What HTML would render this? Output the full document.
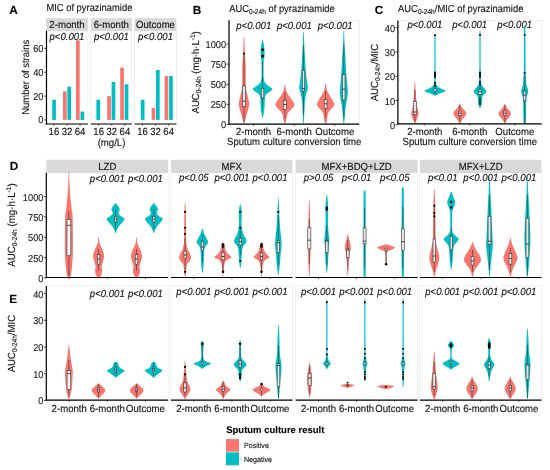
<!DOCTYPE html>
<html><head><meta charset="utf-8"><style>
html,body{margin:0;padding:0;background:#fff;}
svg{display:block;font-family:"Liberation Sans", sans-serif;text-rendering:geometricPrecision;}
text{stroke:#1A1A1A;stroke-width:0.12px;}
svg{filter:blur(0.35px);}
</style></head><body>
<svg width="550" height="470" viewBox="0 0 550 470">
<rect x="0" y="0" width="550" height="470" fill="#fff"/>
<text x="0" y="0" font-size="11.8" text-anchor="start" font-weight="bold" font-style="normal" fill="#000" transform="translate(9.30,14.10) scale(1,1.0)" >A</text>
<text x="0" y="0" font-size="11.8" text-anchor="start" font-weight="bold" font-style="normal" fill="#000" transform="translate(192.80,14.20) scale(1,1.0)" >B</text>
<text x="0" y="0" font-size="11.8" text-anchor="start" font-weight="bold" font-style="normal" fill="#000" transform="translate(374.80,13.80) scale(1,1.0)" >C</text>
<text x="0" y="0" font-size="11.8" text-anchor="start" font-weight="bold" font-style="normal" fill="#000" transform="translate(9.80,169.50) scale(1,1.0)" >D</text>
<text x="0" y="0" font-size="11.8" text-anchor="start" font-weight="bold" font-style="normal" fill="#000" transform="translate(9.20,302.60) scale(1,1.0)" >E</text>
<text x="0" y="0" font-size="9.4" text-anchor="start" font-weight="normal" font-style="normal" fill="#111" transform="translate(46.40,11.10) scale(1,1.07)" >MIC of pyrazinamide</text>
<rect x="46.00" y="30.80" width="41.90" height="93.00" fill="none" stroke="#EBEBEB" stroke-width="0.8" />
<rect x="46.00" y="18.20" width="41.90" height="12.90" fill="#D9D9D9" stroke="none" stroke-width="0" />
<text x="0" y="0" font-size="9.6" text-anchor="middle" font-weight="normal" font-style="normal" fill="#111" transform="translate(66.95,28.34) scale(1,1.07)" >2-month</text>
<text x="0" y="0" font-size="9.6" text-anchor="middle" font-weight="normal" font-style="italic" fill="#111" transform="translate(66.95,39.74) scale(1,1.07)" >p&lt;0.001</text>
<rect x="52.20" y="99.70" width="3.70" height="20.20" fill="#00BFC4" stroke="none" stroke-width="0" />
<rect x="63.00" y="91.39" width="3.70" height="28.51" fill="#F8766D" stroke="none" stroke-width="0" />
<rect x="67.40" y="86.64" width="3.70" height="33.26" fill="#00BFC4" stroke="none" stroke-width="0" />
<rect x="76.00" y="40.30" width="3.70" height="79.60" fill="#F8766D" stroke="none" stroke-width="0" />
<rect x="80.50" y="111.58" width="3.70" height="8.32" fill="#00BFC4" stroke="none" stroke-width="0" />
<line x1="45.50" y1="124.00" x2="87.90" y2="124.00" stroke="#000" stroke-width="1.2" />
<line x1="53.90" y1="124.00" x2="53.90" y2="125.80" stroke="#000" stroke-width="0.6" />
<text x="0" y="0" font-size="9.6" text-anchor="middle" font-weight="normal" font-style="normal" fill="#111" transform="translate(53.90,135.44) scale(1,1.07)" >16</text>
<line x1="67.00" y1="124.00" x2="67.00" y2="125.80" stroke="#000" stroke-width="0.6" />
<text x="0" y="0" font-size="9.6" text-anchor="middle" font-weight="normal" font-style="normal" fill="#111" transform="translate(67.00,135.44) scale(1,1.07)" >32</text>
<line x1="80.10" y1="124.00" x2="80.10" y2="125.80" stroke="#000" stroke-width="0.6" />
<text x="0" y="0" font-size="9.6" text-anchor="middle" font-weight="normal" font-style="normal" fill="#111" transform="translate(80.10,135.44) scale(1,1.07)" >64</text>
<rect x="90.80" y="30.80" width="41.10" height="93.00" fill="none" stroke="#EBEBEB" stroke-width="0.8" />
<rect x="90.80" y="18.20" width="41.10" height="12.90" fill="#D9D9D9" stroke="none" stroke-width="0" />
<text x="0" y="0" font-size="9.6" text-anchor="middle" font-weight="normal" font-style="normal" fill="#111" transform="translate(111.35,28.34) scale(1,1.07)" >6-month</text>
<text x="0" y="0" font-size="9.6" text-anchor="middle" font-weight="normal" font-style="italic" fill="#111" transform="translate(111.35,39.74) scale(1,1.07)" >p&lt;0.001</text>
<rect x="96.40" y="99.70" width="3.70" height="20.20" fill="#00BFC4" stroke="none" stroke-width="0" />
<rect x="107.20" y="96.14" width="3.70" height="23.76" fill="#F8766D" stroke="none" stroke-width="0" />
<rect x="111.60" y="81.88" width="3.70" height="38.02" fill="#00BFC4" stroke="none" stroke-width="0" />
<rect x="120.20" y="67.63" width="3.70" height="52.27" fill="#F8766D" stroke="none" stroke-width="0" />
<rect x="124.70" y="84.26" width="3.70" height="35.64" fill="#00BFC4" stroke="none" stroke-width="0" />
<line x1="90.80" y1="124.00" x2="131.90" y2="124.00" stroke="#000" stroke-width="1.2" />
<line x1="98.70" y1="124.00" x2="98.70" y2="125.80" stroke="#000" stroke-width="0.6" />
<text x="0" y="0" font-size="9.6" text-anchor="middle" font-weight="normal" font-style="normal" fill="#111" transform="translate(98.70,135.44) scale(1,1.07)" >16</text>
<line x1="111.80" y1="124.00" x2="111.80" y2="125.80" stroke="#000" stroke-width="0.6" />
<text x="0" y="0" font-size="9.6" text-anchor="middle" font-weight="normal" font-style="normal" fill="#111" transform="translate(111.80,135.44) scale(1,1.07)" >32</text>
<line x1="124.90" y1="124.00" x2="124.90" y2="125.80" stroke="#000" stroke-width="0.6" />
<text x="0" y="0" font-size="9.6" text-anchor="middle" font-weight="normal" font-style="normal" fill="#111" transform="translate(124.90,135.44) scale(1,1.07)" >64</text>
<rect x="134.60" y="30.80" width="41.80" height="93.00" fill="none" stroke="#EBEBEB" stroke-width="0.8" />
<rect x="134.60" y="18.20" width="41.80" height="12.90" fill="#D9D9D9" stroke="none" stroke-width="0" />
<text x="0" y="0" font-size="9.6" text-anchor="middle" font-weight="normal" font-style="normal" fill="#111" transform="translate(155.50,28.34) scale(1,1.07)" >Outcome</text>
<text x="0" y="0" font-size="9.6" text-anchor="middle" font-weight="normal" font-style="italic" fill="#111" transform="translate(155.50,39.74) scale(1,1.07)" >p&lt;0.001</text>
<rect x="140.80" y="99.70" width="3.70" height="20.20" fill="#00BFC4" stroke="none" stroke-width="0" />
<rect x="151.60" y="108.02" width="3.70" height="11.88" fill="#F8766D" stroke="none" stroke-width="0" />
<rect x="156.00" y="70.00" width="3.70" height="49.90" fill="#00BFC4" stroke="none" stroke-width="0" />
<rect x="164.60" y="75.94" width="3.70" height="43.96" fill="#F8766D" stroke="none" stroke-width="0" />
<rect x="169.10" y="75.94" width="3.70" height="43.96" fill="#00BFC4" stroke="none" stroke-width="0" />
<line x1="134.60" y1="124.00" x2="176.40" y2="124.00" stroke="#000" stroke-width="1.2" />
<line x1="142.50" y1="124.00" x2="142.50" y2="125.80" stroke="#000" stroke-width="0.6" />
<text x="0" y="0" font-size="9.6" text-anchor="middle" font-weight="normal" font-style="normal" fill="#111" transform="translate(142.50,135.44) scale(1,1.07)" >16</text>
<line x1="155.60" y1="124.00" x2="155.60" y2="125.80" stroke="#000" stroke-width="0.6" />
<text x="0" y="0" font-size="9.6" text-anchor="middle" font-weight="normal" font-style="normal" fill="#111" transform="translate(155.60,135.44) scale(1,1.07)" >32</text>
<line x1="168.70" y1="124.00" x2="168.70" y2="125.80" stroke="#000" stroke-width="0.6" />
<text x="0" y="0" font-size="9.6" text-anchor="middle" font-weight="normal" font-style="normal" fill="#111" transform="translate(168.70,135.44) scale(1,1.07)" >64</text>
<line x1="46.50" y1="31.00" x2="46.50" y2="124.50" stroke="#000" stroke-width="1.2" />
<line x1="44.20" y1="119.90" x2="46.50" y2="119.90" stroke="#000" stroke-width="0.7" />
<text x="0" y="0" font-size="9.3" text-anchor="end" fill="#1A1A1A" transform="translate(43.50,123.43) scale(1,1.07)">0</text>
<line x1="44.20" y1="96.10" x2="46.50" y2="96.10" stroke="#000" stroke-width="0.7" />
<text x="0" y="0" font-size="9.3" text-anchor="end" fill="#1A1A1A" transform="translate(43.50,99.63) scale(1,1.07)">20</text>
<line x1="44.20" y1="72.30" x2="46.50" y2="72.30" stroke="#000" stroke-width="0.7" />
<text x="0" y="0" font-size="9.3" text-anchor="end" fill="#1A1A1A" transform="translate(43.50,75.83) scale(1,1.07)">40</text>
<line x1="44.20" y1="48.40" x2="46.50" y2="48.40" stroke="#000" stroke-width="0.7" />
<text x="0" y="0" font-size="9.3" text-anchor="end" fill="#1A1A1A" transform="translate(43.50,51.93) scale(1,1.07)">60</text>
<text x="0.00" y="0.00" font-size="9.5" text-anchor="middle" font-weight="normal" font-style="normal" fill="#111" transform="translate(29.2,77.3) rotate(-90) scale(1,1.07)">Number of strains</text>
<text x="0" y="0" font-size="9.6" text-anchor="middle" font-weight="normal" font-style="normal" fill="#111" transform="translate(111.50,146.04) scale(1,1.07)" >(mg/L)</text>
<text x="0" y="0" font-size="9.4" text-anchor="start" font-weight="normal" font-style="normal" fill="#111" transform="translate(229.20,11.70) scale(1,1.07)" >AUC<tspan font-size="6.6" dy="1.8">0-24h</tspan><tspan dy="-1.8"> of pyrazinamide</tspan></text>
<rect x="229.00" y="20.30" width="130.30" height="103.80" fill="none" stroke="#EBEBEB" stroke-width="0.8" />
<text x="0" y="0" font-size="9.6" text-anchor="middle" font-weight="normal" font-style="italic" fill="#111" transform="translate(253.80,28.64) scale(1,1.07)" >p&lt;0.001</text>
<text x="0" y="0" font-size="9.6" text-anchor="middle" font-weight="normal" font-style="italic" fill="#111" transform="translate(294.40,28.64) scale(1,1.07)" >p&lt;0.001</text>
<text x="0" y="0" font-size="9.6" text-anchor="middle" font-weight="normal" font-style="italic" fill="#111" transform="translate(335.10,28.64) scale(1,1.07)" >p&lt;0.001</text>
<polygon points="244.30,36.40 244.33,37.34 244.38,38.65 244.43,40.20 244.49,41.86 244.55,43.50 244.60,45.00 244.65,46.38 244.69,47.75 244.74,49.10 244.79,50.43 244.84,51.73 244.90,53.00 244.97,54.19 245.06,55.30 245.15,56.38 245.24,57.48 245.32,58.67 245.40,60.00 245.47,61.45 245.54,62.96 245.60,64.56 245.66,66.26 245.71,68.07 245.75,70.00 245.77,72.17 245.76,74.59 245.74,77.12 245.73,79.63 245.74,81.97 245.80,84.00 245.90,85.70 246.03,87.19 246.18,88.50 246.36,89.70 246.55,90.85 246.75,92.00 246.98,93.11 247.23,94.13 247.51,95.09 247.78,96.04 248.03,96.99 248.25,98.00 248.45,99.07 248.65,100.17 248.84,101.28 248.99,102.39 249.08,103.47 249.10,104.50 249.04,105.47 248.90,106.39 248.71,107.28 248.49,108.17 248.24,109.07 248.00,110.00 247.75,110.95 247.47,111.90 247.18,112.86 246.87,113.86 246.56,114.90 246.25,116.00 245.91,117.27 245.54,118.73 245.17,120.22 244.81,121.64 244.51,122.84 244.30,123.70 243.70,123.70 243.49,122.84 243.19,121.64 242.83,120.22 242.46,118.73 242.09,117.27 241.75,116.00 241.44,114.90 241.13,113.86 240.82,112.86 240.53,111.90 240.25,110.95 240.00,110.00 239.76,109.07 239.51,108.17 239.29,107.28 239.10,106.39 238.96,105.47 238.90,104.50 238.92,103.47 239.01,102.39 239.16,101.28 239.35,100.17 239.55,99.07 239.75,98.00 239.97,96.99 240.22,96.04 240.49,95.09 240.77,94.13 241.02,93.11 241.25,92.00 241.45,90.85 241.64,89.70 241.82,88.50 241.97,87.19 242.10,85.70 242.20,84.00 242.26,81.97 242.27,79.63 242.26,77.12 242.24,74.59 242.23,72.17 242.25,70.00 242.29,68.07 242.34,66.26 242.40,64.56 242.46,62.96 242.53,61.45 242.60,60.00 242.68,58.67 242.76,57.48 242.85,56.38 242.94,55.30 243.03,54.19 243.10,53.00 243.16,51.73 243.21,50.43 243.26,49.10 243.31,47.75 243.35,46.38 243.40,45.00 243.45,43.50 243.51,41.86 243.57,40.20 243.62,38.65 243.67,37.34 243.70,36.40" fill="#F8766D"/>
<line x1="244.00" y1="55.00" x2="244.00" y2="122.00" stroke="#333" stroke-width="0.7" opacity="0.85"/>
<rect x="242.50" y="86.00" width="3.00" height="20.70" fill="#E4E4E4" stroke="#3A3A3A" stroke-width="0.6" />
<line x1="242.50" y1="101.20" x2="245.50" y2="101.20" stroke="#222" stroke-width="0.8" />
<circle cx="244.00" cy="53.60" r="1.1" fill="#000"/>
<polygon points="262.90,40.10 263.01,40.63 263.17,41.37 263.36,42.24 263.56,43.18 263.74,44.12 263.90,45.00 264.03,45.82 264.15,46.62 264.26,47.43 264.36,48.26 264.44,49.11 264.50,50.00 264.54,50.94 264.57,51.93 264.59,52.94 264.58,53.96 264.55,54.99 264.50,56.00 264.40,56.92 264.27,57.74 264.11,58.56 263.94,59.48 263.80,60.59 263.70,62.00 263.64,63.85 263.59,66.11 263.57,68.56 263.56,71.00 263.57,73.22 263.60,75.00 263.64,76.32 263.70,77.33 263.78,78.12 263.87,78.78 263.98,79.38 264.10,80.00 264.21,80.62 264.30,81.15 264.41,81.62 264.56,82.07 264.78,82.52 265.10,83.00 265.54,83.50 266.07,84.00 266.68,84.50 267.32,85.00 267.97,85.50 268.60,86.00 269.28,86.51 270.05,87.02 270.83,87.53 271.54,88.04 272.07,88.53 272.35,89.00 272.34,89.45 272.09,89.87 271.68,90.28 271.16,90.69 270.62,91.09 270.10,91.50 269.57,91.91 268.95,92.31 268.30,92.72 267.66,93.13 267.08,93.55 266.60,94.00 266.22,94.44 265.91,94.85 265.66,95.28 265.44,95.76 265.26,96.32 265.10,97.00 264.97,97.81 264.88,98.74 264.83,99.75 264.79,100.81 264.75,101.91 264.70,103.00 264.64,104.14 264.59,105.37 264.55,106.62 264.49,107.85 264.43,109.00 264.35,110.00 264.25,110.85 264.13,111.58 264.00,112.23 263.86,112.82 263.73,113.40 263.60,114.00 263.47,114.64 263.34,115.30 263.20,115.95 263.08,116.54 262.98,117.04 262.90,117.40 262.30,117.40 262.22,117.04 262.12,116.54 262.00,115.95 261.86,115.30 261.73,114.64 261.60,114.00 261.47,113.40 261.34,112.82 261.20,112.23 261.07,111.58 260.95,110.85 260.85,110.00 260.77,109.00 260.71,107.85 260.65,106.62 260.61,105.37 260.56,104.14 260.50,103.00 260.45,101.91 260.41,100.81 260.37,99.75 260.32,98.74 260.23,97.81 260.10,97.00 259.94,96.32 259.76,95.76 259.54,95.28 259.29,94.85 258.98,94.44 258.60,94.00 258.12,93.55 257.54,93.13 256.90,92.72 256.25,92.31 255.63,91.91 255.10,91.50 254.58,91.09 254.04,90.69 253.52,90.28 253.11,89.87 252.86,89.45 252.85,89.00 253.13,88.53 253.66,88.04 254.37,87.53 255.15,87.02 255.92,86.51 256.60,86.00 257.23,85.50 257.88,85.00 258.52,84.50 259.13,84.00 259.66,83.50 260.10,83.00 260.42,82.52 260.64,82.07 260.79,81.62 260.90,81.15 260.99,80.62 261.10,80.00 261.22,79.38 261.33,78.78 261.42,78.12 261.50,77.33 261.56,76.32 261.60,75.00 261.63,73.22 261.64,71.00 261.63,68.56 261.61,66.11 261.56,63.85 261.50,62.00 261.40,60.59 261.26,59.48 261.09,58.56 260.93,57.74 260.80,56.92 260.70,56.00 260.65,54.99 260.62,53.96 260.61,52.94 260.63,51.93 260.66,50.94 260.70,50.00 260.76,49.11 260.84,48.26 260.94,47.43 261.05,46.62 261.17,45.82 261.30,45.00 261.46,44.12 261.64,43.18 261.84,42.24 262.03,41.37 262.19,40.63 262.30,40.10" fill="#00BFC4"/>
<line x1="262.60" y1="62.00" x2="262.60" y2="107.00" stroke="#333" stroke-width="0.7" opacity="0.85"/>
<rect x="261.40" y="88.30" width="2.40" height="9.60" fill="#E4E4E4" stroke="#3A3A3A" stroke-width="0.6" />
<circle cx="262.60" cy="49.70" r="1.5" fill="#000"/>
<circle cx="262.60" cy="56.00" r="1.5" fill="#000"/>
<polygon points="285.20,84.70 285.25,85.06 285.31,85.57 285.38,86.16 285.46,86.80 285.55,87.43 285.65,88.00 285.74,88.51 285.83,88.99 285.93,89.46 286.05,89.94 286.20,90.45 286.40,91.00 286.64,91.60 286.92,92.22 287.23,92.88 287.58,93.56 287.97,94.26 288.40,95.00 288.91,95.78 289.49,96.59 290.12,97.44 290.75,98.30 291.36,99.16 291.90,100.00 292.43,100.86 292.97,101.74 293.49,102.62 293.94,103.48 294.26,104.28 294.40,105.00 294.34,105.62 294.10,106.15 293.74,106.62 293.31,107.07 292.84,107.52 292.40,108.00 291.95,108.50 291.44,109.00 290.90,109.50 290.36,110.00 289.85,110.50 289.40,111.00 288.99,111.49 288.61,111.96 288.26,112.44 287.94,112.93 287.65,113.44 287.40,114.00 287.20,114.62 287.05,115.30 286.93,116.00 286.84,116.70 286.75,117.38 286.65,118.00 286.56,118.56 286.48,119.09 286.41,119.59 286.34,120.07 286.26,120.53 286.15,121.00 286.01,121.49 285.83,121.99 285.64,122.49 285.46,122.94 285.31,123.32 285.20,123.60 284.60,123.60 284.49,123.32 284.34,122.94 284.16,122.49 283.97,121.99 283.79,121.49 283.65,121.00 283.54,120.53 283.46,120.07 283.39,119.59 283.32,119.09 283.24,118.56 283.15,118.00 283.05,117.38 282.96,116.70 282.87,116.00 282.75,115.30 282.60,114.62 282.40,114.00 282.15,113.44 281.86,112.93 281.54,112.44 281.19,111.96 280.81,111.49 280.40,111.00 279.95,110.50 279.44,110.00 278.90,109.50 278.36,109.00 277.85,108.50 277.40,108.00 276.96,107.52 276.49,107.07 276.06,106.62 275.70,106.15 275.46,105.62 275.40,105.00 275.54,104.28 275.86,103.48 276.31,102.62 276.83,101.74 277.37,100.86 277.90,100.00 278.44,99.16 279.05,98.30 279.68,97.44 280.31,96.59 280.89,95.78 281.40,95.00 281.83,94.26 282.22,93.56 282.57,92.88 282.88,92.22 283.16,91.60 283.40,91.00 283.60,90.45 283.75,89.94 283.87,89.46 283.97,88.99 284.06,88.51 284.15,88.00 284.25,87.43 284.34,86.80 284.42,86.16 284.49,85.57 284.55,85.06 284.60,84.70" fill="#F8766D"/>
<line x1="284.90" y1="91.70" x2="284.90" y2="118.50" stroke="#333" stroke-width="0.7" opacity="0.85"/>
<rect x="283.45" y="100.40" width="2.90" height="8.90" fill="#E4E4E4" stroke="#3A3A3A" stroke-width="0.6" />
<line x1="283.45" y1="104.50" x2="286.35" y2="104.50" stroke="#222" stroke-width="0.8" />
<polygon points="303.80,32.10 303.85,33.54 303.93,35.55 304.01,37.93 304.11,40.44 304.21,42.87 304.30,45.00 304.40,46.83 304.50,48.55 304.60,50.18 304.70,51.77 304.80,53.37 304.90,55.00 304.99,56.67 305.06,58.33 305.14,60.00 305.21,61.67 305.30,63.33 305.40,65.00 305.51,66.69 305.64,68.41 305.77,70.12 305.90,71.81 306.05,73.45 306.20,75.00 306.37,76.48 306.55,77.93 306.74,79.31 306.93,80.63 307.10,81.86 307.25,83.00 307.39,84.01 307.54,84.89 307.67,85.69 307.77,86.44 307.82,87.20 307.80,88.00 307.69,88.81 307.51,89.59 307.27,90.38 307.01,91.19 306.74,92.05 306.50,93.00 306.26,94.02 306.01,95.07 305.76,96.19 305.51,97.37 305.29,98.64 305.10,100.00 304.95,101.45 304.84,102.98 304.76,104.59 304.68,106.29 304.60,108.09 304.50,110.00 304.38,112.22 304.25,114.77 304.11,117.42 303.99,119.94 303.88,122.08 303.80,123.60 303.20,123.60 303.12,122.08 303.01,119.94 302.89,117.42 302.75,114.77 302.62,112.22 302.50,110.00 302.40,108.09 302.32,106.29 302.24,104.59 302.16,102.98 302.05,101.45 301.90,100.00 301.71,98.64 301.49,97.37 301.24,96.19 300.99,95.07 300.74,94.02 300.50,93.00 300.26,92.05 299.99,91.19 299.73,90.38 299.49,89.59 299.31,88.81 299.20,88.00 299.18,87.20 299.23,86.44 299.33,85.69 299.46,84.89 299.61,84.01 299.75,83.00 299.90,81.86 300.07,80.63 300.26,79.31 300.45,77.93 300.63,76.48 300.80,75.00 300.95,73.45 301.10,71.81 301.23,70.12 301.36,68.41 301.49,66.69 301.60,65.00 301.70,63.33 301.79,61.67 301.86,60.00 301.94,58.33 302.01,56.67 302.10,55.00 302.20,53.37 302.30,51.77 302.40,50.18 302.50,48.55 302.60,46.83 302.70,45.00 302.79,42.87 302.89,40.44 302.99,37.93 303.07,35.55 303.15,33.54 303.20,32.10" fill="#00BFC4"/>
<line x1="303.50" y1="45.00" x2="303.50" y2="115.00" stroke="#333" stroke-width="0.7" opacity="0.85"/>
<rect x="302.30" y="70.40" width="2.40" height="20.70" fill="#E4E4E4" stroke="#3A3A3A" stroke-width="0.6" />
<line x1="302.30" y1="88.60" x2="304.70" y2="88.60" stroke="#222" stroke-width="0.8" />
<polygon points="325.90,83.40 325.95,83.79 326.01,84.34 326.08,84.98 326.16,85.67 326.25,86.36 326.35,87.00 326.44,87.58 326.53,88.16 326.63,88.72 326.75,89.30 326.90,89.89 327.10,90.50 327.35,91.13 327.64,91.76 327.96,92.41 328.31,93.07 328.69,93.77 329.10,94.50 329.55,95.28 330.05,96.09 330.58,96.94 331.12,97.80 331.63,98.66 332.10,99.50 332.56,100.36 333.05,101.24 333.52,102.12 333.92,102.98 334.22,103.78 334.35,104.50 334.30,105.12 334.10,105.65 333.79,106.12 333.41,106.57 333.00,107.02 332.60,107.50 332.19,108.00 331.72,108.50 331.23,109.00 330.73,109.50 330.26,110.00 329.85,110.50 329.49,110.99 329.16,111.46 328.85,111.94 328.57,112.43 328.32,112.94 328.10,113.50 327.91,114.11 327.77,114.78 327.65,115.47 327.54,116.17 327.45,116.85 327.35,117.50 327.26,118.12 327.18,118.74 327.11,119.34 327.04,119.92 326.96,120.47 326.85,121.00 326.71,121.52 326.53,122.03 326.34,122.52 326.16,122.96 326.01,123.33 325.90,123.60 325.30,123.60 325.19,123.33 325.04,122.96 324.86,122.52 324.67,122.03 324.49,121.52 324.35,121.00 324.24,120.47 324.16,119.92 324.09,119.34 324.02,118.74 323.94,118.12 323.85,117.50 323.75,116.85 323.66,116.17 323.55,115.47 323.43,114.78 323.29,114.11 323.10,113.50 322.88,112.94 322.63,112.43 322.35,111.94 322.04,111.46 321.71,110.99 321.35,110.50 320.94,110.00 320.47,109.50 319.98,109.00 319.48,108.50 319.01,108.00 318.60,107.50 318.20,107.02 317.79,106.57 317.41,106.12 317.10,105.65 316.90,105.12 316.85,104.50 316.98,103.78 317.28,102.98 317.68,102.12 318.15,101.24 318.64,100.36 319.10,99.50 319.57,98.66 320.08,97.80 320.62,96.94 321.15,96.09 321.65,95.28 322.10,94.50 322.51,93.77 322.89,93.07 323.24,92.41 323.56,91.76 323.85,91.13 324.10,90.50 324.30,89.89 324.45,89.30 324.57,88.72 324.67,88.16 324.76,87.58 324.85,87.00 324.95,86.36 325.04,85.67 325.12,84.98 325.19,84.34 325.25,83.79 325.30,83.40" fill="#F8766D"/>
<line x1="325.60" y1="91.00" x2="325.60" y2="118.00" stroke="#333" stroke-width="0.7" opacity="0.85"/>
<rect x="324.15" y="99.60" width="2.90" height="8.70" fill="#E4E4E4" stroke="#3A3A3A" stroke-width="0.6" />
<line x1="324.15" y1="103.80" x2="327.05" y2="103.80" stroke="#222" stroke-width="0.8" />
<polygon points="344.10,30.90 344.15,32.48 344.22,34.71 344.31,37.32 344.40,40.08 344.50,42.72 344.60,45.00 344.70,46.85 344.82,48.45 344.93,49.94 345.06,51.45 345.18,53.09 345.30,55.00 345.42,57.25 345.54,59.74 345.66,62.38 345.78,65.04 345.91,67.62 346.05,70.00 346.21,72.20 346.37,74.31 346.55,76.33 346.73,78.28 346.89,80.17 347.05,82.00 347.21,83.77 347.38,85.46 347.55,87.08 347.69,88.66 347.78,90.19 347.80,91.70 347.74,93.17 347.61,94.58 347.43,95.96 347.22,97.31 347.00,98.65 346.80,100.00 346.60,101.36 346.38,102.73 346.15,104.08 345.93,105.42 345.73,106.73 345.55,108.00 345.41,109.21 345.29,110.35 345.20,111.46 345.11,112.59 345.01,113.75 344.90,115.00 344.77,116.44 344.61,118.07 344.46,119.74 344.31,121.31 344.19,122.65 344.10,123.60 343.50,123.60 343.41,122.65 343.29,121.31 343.14,119.74 342.99,118.07 342.83,116.44 342.70,115.00 342.59,113.75 342.49,112.59 342.40,111.46 342.31,110.35 342.19,109.21 342.05,108.00 341.87,106.73 341.67,105.42 341.45,104.08 341.22,102.73 341.00,101.36 340.80,100.00 340.60,98.65 340.38,97.31 340.18,95.96 339.99,94.58 339.86,93.17 339.80,91.70 339.82,90.19 339.91,88.66 340.05,87.08 340.22,85.46 340.39,83.77 340.55,82.00 340.71,80.17 340.87,78.28 341.05,76.33 341.23,74.31 341.39,72.20 341.55,70.00 341.69,67.62 341.82,65.04 341.94,62.38 342.06,59.74 342.18,57.25 342.30,55.00 342.42,53.09 342.54,51.45 342.67,49.94 342.78,48.45 342.90,46.85 343.00,45.00 343.10,42.72 343.20,40.08 343.29,37.32 343.38,34.71 343.45,32.48 343.50,30.90" fill="#00BFC4"/>
<line x1="343.80" y1="45.00" x2="343.80" y2="118.00" stroke="#333" stroke-width="0.7" opacity="0.85"/>
<rect x="342.60" y="74.50" width="2.40" height="25.50" fill="#E4E4E4" stroke="#3A3A3A" stroke-width="0.6" />
<line x1="342.60" y1="89.20" x2="345.00" y2="89.20" stroke="#222" stroke-width="0.8" />
<line x1="229.00" y1="20.30" x2="229.00" y2="124.60" stroke="#000" stroke-width="1.2" />
<line x1="228.50" y1="124.10" x2="359.30" y2="124.10" stroke="#000" stroke-width="1.2" />
<line x1="226.60" y1="124.50" x2="229.00" y2="124.50" stroke="#000" stroke-width="0.7" />
<text x="0" y="0" font-size="9.3" text-anchor="end" fill="#1A1A1A" transform="translate(226.20,128.43) scale(1,1.07)">0</text>
<line x1="226.60" y1="104.40" x2="229.00" y2="104.40" stroke="#000" stroke-width="0.7" />
<text x="0" y="0" font-size="9.3" text-anchor="end" fill="#1A1A1A" transform="translate(226.20,108.33) scale(1,1.07)">250</text>
<line x1="226.60" y1="84.30" x2="229.00" y2="84.30" stroke="#000" stroke-width="0.7" />
<text x="0" y="0" font-size="9.3" text-anchor="end" fill="#1A1A1A" transform="translate(226.20,88.23) scale(1,1.07)">500</text>
<line x1="226.60" y1="64.10" x2="229.00" y2="64.10" stroke="#000" stroke-width="0.7" />
<text x="0" y="0" font-size="9.3" text-anchor="end" fill="#1A1A1A" transform="translate(226.20,68.03) scale(1,1.07)">750</text>
<line x1="226.60" y1="44.00" x2="229.00" y2="44.00" stroke="#000" stroke-width="0.7" />
<text x="0" y="0" font-size="9.3" text-anchor="end" fill="#1A1A1A" transform="translate(226.20,47.93) scale(1,1.07)">1000</text>
<line x1="253.60" y1="124.10" x2="253.60" y2="125.90" stroke="#000" stroke-width="0.6" />
<text x="0" y="0" font-size="9.6" text-anchor="middle" font-weight="normal" font-style="normal" fill="#111" transform="translate(253.60,135.44) scale(1,1.07)" >2-month</text>
<line x1="294.20" y1="124.10" x2="294.20" y2="125.90" stroke="#000" stroke-width="0.6" />
<text x="0" y="0" font-size="9.6" text-anchor="middle" font-weight="normal" font-style="normal" fill="#111" transform="translate(294.20,135.44) scale(1,1.07)" >6-month</text>
<line x1="334.80" y1="124.10" x2="334.80" y2="125.90" stroke="#000" stroke-width="0.6" />
<text x="0" y="0" font-size="9.6" text-anchor="middle" font-weight="normal" font-style="normal" fill="#111" transform="translate(334.80,135.44) scale(1,1.07)" >Outcome</text>
<text x="0" y="0" font-size="9.6" text-anchor="middle" font-weight="normal" font-style="normal" fill="#111" transform="translate(294.20,145.24) scale(1,1.07)" >Sputum culture conversion time</text>
<text x="0.00" y="0.00" font-size="9.55" text-anchor="middle" font-weight="normal" font-style="normal" fill="#111" transform="translate(198.8,72.3) rotate(-90) scale(1,1.07)">AUC<tspan font-size="6.6" dy="1.8">0-24h</tspan><tspan dy="-1.8"> (mg·h·L</tspan><tspan font-size="6.6" dy="-3.5">-1</tspan><tspan dy="3.5">)</tspan></text>
<text x="0" y="0" font-size="9.4" text-anchor="start" font-weight="normal" font-style="normal" fill="#111" transform="translate(398.10,11.60) scale(1,1.07)" >AUC<tspan font-size="6.6" dy="1.8">0-24h</tspan><tspan dy="-1.8">/MIC of pyrazinamide</tspan></text>
<rect x="397.90" y="20.50" width="143.80" height="103.40" fill="none" stroke="#EBEBEB" stroke-width="0.8" />
<text x="0" y="0" font-size="9.6" text-anchor="middle" font-weight="normal" font-style="italic" fill="#111" transform="translate(424.90,27.94) scale(1,1.07)" >p&lt;0.001</text>
<text x="0" y="0" font-size="9.6" text-anchor="middle" font-weight="normal" font-style="italic" fill="#111" transform="translate(469.70,27.94) scale(1,1.07)" >p&lt;0.001</text>
<text x="0" y="0" font-size="9.6" text-anchor="middle" font-weight="normal" font-style="italic" fill="#111" transform="translate(514.60,27.94) scale(1,1.07)" >p&lt;0.001</text>
<polygon points="415.20,81.90 415.25,82.78 415.31,84.00 415.39,85.45 415.48,87.01 415.57,88.56 415.65,90.00 415.73,91.36 415.81,92.75 415.90,94.13 415.98,95.49 416.07,96.78 416.15,98.00 416.22,99.12 416.29,100.15 416.35,101.12 416.43,102.07 416.52,103.02 416.65,104.00 416.82,105.02 417.03,106.07 417.26,107.12 417.49,108.15 417.71,109.12 417.90,110.00 418.08,110.78 418.26,111.48 418.43,112.12 418.57,112.74 418.65,113.36 418.65,114.00 418.56,114.68 418.38,115.37 418.15,116.06 417.89,116.74 417.63,117.39 417.40,118.00 417.19,118.56 416.97,119.09 416.76,119.59 416.54,120.07 416.34,120.53 416.15,121.00 415.96,121.49 415.78,121.99 415.60,122.49 415.44,122.94 415.30,123.32 415.20,123.60 414.60,123.60 414.50,123.32 414.36,122.94 414.20,122.49 414.02,121.99 413.84,121.49 413.65,121.00 413.46,120.53 413.26,120.07 413.04,119.59 412.83,119.09 412.61,118.56 412.40,118.00 412.17,117.39 411.91,116.74 411.65,116.06 411.42,115.37 411.24,114.68 411.15,114.00 411.15,113.36 411.23,112.74 411.37,112.12 411.54,111.48 411.72,110.78 411.90,110.00 412.09,109.12 412.31,108.15 412.54,107.12 412.77,106.07 412.98,105.02 413.15,104.00 413.28,103.02 413.37,102.07 413.45,101.12 413.51,100.15 413.58,99.12 413.65,98.00 413.73,96.78 413.82,95.49 413.90,94.13 413.99,92.75 414.07,91.36 414.15,90.00 414.23,88.56 414.32,87.01 414.41,85.45 414.49,84.00 414.55,82.78 414.60,81.90" fill="#F8766D"/>
<line x1="414.90" y1="90.00" x2="414.90" y2="122.00" stroke="#333" stroke-width="0.7" opacity="0.85"/>
<rect x="413.30" y="101.30" width="3.20" height="13.40" fill="#E4E4E4" stroke="#3A3A3A" stroke-width="0.6" />
<line x1="413.30" y1="112.00" x2="416.50" y2="112.00" stroke="#222" stroke-width="0.8" />
<polygon points="435.40,34.50 435.42,34.76 435.45,34.83 435.48,35.06 435.52,35.78 435.55,37.31 435.57,40.00 435.59,44.43 435.59,50.44 435.59,57.28 435.59,64.17 435.61,70.33 435.65,75.00 435.69,78.07 435.71,80.13 435.75,81.47 435.83,82.37 435.97,83.12 436.20,84.00 436.49,84.90 436.83,85.58 437.23,86.10 437.71,86.54 438.29,86.99 439.00,87.50 440.01,88.08 441.36,88.67 442.80,89.26 444.12,89.83 445.10,90.38 445.50,90.90 445.20,91.39 444.36,91.84 443.16,92.28 441.82,92.70 440.53,93.10 439.50,93.50 438.66,93.90 437.84,94.31 437.07,94.71 436.39,95.07 435.82,95.38 435.40,95.60 434.60,95.60 434.18,95.38 433.61,95.07 432.93,94.71 432.16,94.31 431.34,93.90 430.50,93.50 429.47,93.10 428.18,92.70 426.84,92.28 425.64,91.84 424.80,91.39 424.50,90.90 424.90,90.38 425.88,89.83 427.20,89.26 428.64,88.67 429.99,88.08 431.00,87.50 431.71,86.99 432.29,86.54 432.77,86.10 433.17,85.58 433.51,84.90 433.80,84.00 434.03,83.12 434.17,82.37 434.25,81.47 434.29,80.13 434.31,78.07 434.35,75.00 434.39,70.33 434.41,64.17 434.41,57.28 434.41,50.44 434.41,44.43 434.43,40.00 434.45,37.31 434.48,35.78 434.52,35.06 434.55,34.83 434.58,34.76 434.60,34.50" fill="#00BFC4"/>
<line x1="435.00" y1="85.00" x2="435.00" y2="94.00" stroke="#333" stroke-width="0.7" opacity="0.85"/>
<circle cx="435.00" cy="35.30" r="1.05" fill="#000"/>
<circle cx="435.00" cy="72.50" r="1.05" fill="#000"/>
<circle cx="435.00" cy="74.00" r="1.05" fill="#000"/>
<circle cx="435.00" cy="75.50" r="1.05" fill="#000"/>
<circle cx="435.00" cy="77.00" r="1.05" fill="#000"/>
<circle cx="435.00" cy="82.90" r="1.05" fill="#000"/>
<circle cx="435.00" cy="85.50" r="1.05" fill="#000"/>
<circle cx="435.0" cy="90.1" r="1.6" fill="#CCC" stroke="#333" stroke-width="0.6"/>
<polygon points="460.10,103.50 460.19,103.77 460.30,104.13 460.43,104.56 460.60,105.04 460.81,105.53 461.05,106.00 461.35,106.48 461.70,106.98 462.09,107.50 462.50,108.02 462.91,108.52 463.30,109.00 463.69,109.45 464.11,109.89 464.52,110.31 464.91,110.72 465.26,111.12 465.55,111.50 465.79,111.85 465.99,112.17 466.16,112.47 466.27,112.78 466.32,113.11 466.30,113.50 466.20,113.94 466.02,114.41 465.78,114.91 465.49,115.43 465.16,115.96 464.80,116.50 464.37,117.05 463.86,117.62 463.31,118.21 462.76,118.80 462.24,119.40 461.80,120.00 461.42,120.65 461.07,121.36 460.76,122.07 460.49,122.73 460.27,123.30 460.10,123.70 459.50,123.70 459.33,123.30 459.11,122.73 458.84,122.07 458.53,121.36 458.18,120.65 457.80,120.00 457.36,119.40 456.84,118.80 456.29,118.21 455.74,117.62 455.23,117.05 454.80,116.50 454.44,115.96 454.11,115.43 453.82,114.91 453.58,114.41 453.40,113.94 453.30,113.50 453.28,113.11 453.33,112.78 453.44,112.47 453.61,112.17 453.81,111.85 454.05,111.50 454.34,111.12 454.69,110.72 455.08,110.31 455.49,109.89 455.91,109.45 456.30,109.00 456.69,108.52 457.10,108.02 457.51,107.50 457.90,106.98 458.25,106.48 458.55,106.00 458.79,105.53 459.00,105.04 459.17,104.56 459.30,104.13 459.41,103.77 459.50,103.50" fill="#F8766D"/>
<line x1="459.80" y1="105.00" x2="459.80" y2="122.00" stroke="#333" stroke-width="0.7" opacity="0.85"/>
<rect x="458.50" y="111.00" width="2.60" height="4.50" fill="#E4E4E4" stroke="#3A3A3A" stroke-width="0.6" />
<line x1="458.50" y1="113.20" x2="461.10" y2="113.20" stroke="#222" stroke-width="0.8" />
<polygon points="480.40,31.20 480.42,31.25 480.45,31.03 480.48,30.91 480.52,31.28 480.55,32.52 480.57,35.00 480.59,39.32 480.60,45.28 480.60,52.11 480.61,59.03 480.62,65.25 480.65,70.00 480.69,73.17 480.73,75.37 480.78,76.88 480.84,77.96 480.92,78.91 481.00,80.00 481.08,81.15 481.16,82.11 481.26,82.94 481.37,83.67 481.53,84.34 481.75,85.00 482.04,85.61 482.38,86.13 482.77,86.59 483.18,87.03 483.59,87.49 484.00,88.00 484.47,88.57 485.02,89.16 485.58,89.78 486.06,90.39 486.40,91.00 486.50,91.60 486.30,92.18 485.85,92.76 485.25,93.34 484.59,93.90 483.98,94.46 483.50,95.00 483.15,95.50 482.83,95.96 482.56,96.41 482.33,96.88 482.15,97.40 482.00,98.00 481.93,98.69 481.95,99.45 482.01,100.26 482.07,101.10 482.08,101.96 482.00,102.80 481.80,103.70 481.50,104.70 481.15,105.70 480.80,106.64 480.50,107.43 480.30,108.00 479.70,108.00 479.50,107.43 479.20,106.64 478.85,105.70 478.50,104.70 478.20,103.70 478.00,102.80 477.92,101.96 477.93,101.10 477.99,100.26 478.05,99.45 478.07,98.69 478.00,98.00 477.85,97.40 477.67,96.88 477.44,96.41 477.17,95.96 476.85,95.50 476.50,95.00 476.02,94.46 475.41,93.90 474.75,93.34 474.15,92.76 473.70,92.18 473.50,91.60 473.60,91.00 473.94,90.39 474.42,89.78 474.98,89.16 475.53,88.57 476.00,88.00 476.41,87.49 476.82,87.03 477.23,86.59 477.62,86.13 477.96,85.61 478.25,85.00 478.47,84.34 478.63,83.67 478.74,82.94 478.84,82.11 478.92,81.15 479.00,80.00 479.08,78.91 479.16,77.96 479.22,76.88 479.27,75.37 479.31,73.17 479.35,70.00 479.38,65.25 479.39,59.03 479.40,52.11 479.40,45.28 479.41,39.32 479.43,35.00 479.45,32.52 479.48,31.28 479.52,30.91 479.55,31.03 479.58,31.25 479.60,31.20" fill="#00BFC4"/>
<line x1="480.00" y1="84.00" x2="480.00" y2="98.00" stroke="#333" stroke-width="0.7" opacity="0.85"/>
<rect x="478.70" y="89.40" width="2.60" height="5.20" fill="#E4E4E4" stroke="#3A3A3A" stroke-width="0.6" />
<line x1="478.70" y1="91.60" x2="481.30" y2="91.60" stroke="#222" stroke-width="0.8" />
<circle cx="480.00" cy="34.90" r="1.0" fill="#000"/>
<circle cx="480.00" cy="72.50" r="1.0" fill="#000"/>
<circle cx="480.00" cy="74.00" r="1.0" fill="#000"/>
<circle cx="480.00" cy="75.50" r="1.0" fill="#000"/>
<circle cx="480.00" cy="77.00" r="1.0" fill="#000"/>
<circle cx="480.00" cy="82.00" r="1.0" fill="#000"/>
<circle cx="480.00" cy="84.50" r="1.0" fill="#000"/>
<circle cx="480.00" cy="99.00" r="1.0" fill="#000"/>
<circle cx="480.00" cy="101.50" r="1.0" fill="#000"/>
<circle cx="480.00" cy="104.00" r="1.0" fill="#000"/>
<polygon points="505.10,103.80 505.19,104.07 505.30,104.43 505.43,104.86 505.60,105.34 505.81,105.83 506.05,106.30 506.35,106.78 506.71,107.28 507.11,107.80 507.52,108.32 507.92,108.82 508.30,109.30 508.66,109.75 509.03,110.19 509.39,110.61 509.74,111.02 510.04,111.42 510.30,111.80 510.52,112.15 510.73,112.47 510.89,112.77 511.01,113.08 511.07,113.41 511.05,113.80 510.94,114.24 510.76,114.72 510.52,115.23 510.23,115.75 509.90,116.28 509.55,116.80 509.15,117.32 508.69,117.83 508.19,118.36 507.69,118.89 507.21,119.44 506.80,120.00 506.44,120.63 506.09,121.33 505.78,122.05 505.50,122.72 505.27,123.29 505.10,123.70 504.50,123.70 504.33,123.29 504.10,122.72 503.82,122.05 503.51,121.33 503.16,120.63 502.80,120.00 502.39,119.44 501.91,118.89 501.41,118.36 500.91,117.83 500.45,117.32 500.05,116.80 499.70,116.28 499.37,115.75 499.08,115.23 498.84,114.72 498.66,114.24 498.55,113.80 498.53,113.41 498.59,113.08 498.71,112.77 498.87,112.47 499.08,112.15 499.30,111.80 499.56,111.42 499.86,111.02 500.21,110.61 500.57,110.19 500.94,109.75 501.30,109.30 501.68,108.82 502.08,108.32 502.49,107.80 502.89,107.28 503.25,106.78 503.55,106.30 503.79,105.83 504.00,105.34 504.17,104.86 504.30,104.43 504.41,104.07 504.50,103.80" fill="#F8766D"/>
<line x1="504.80" y1="105.00" x2="504.80" y2="122.00" stroke="#333" stroke-width="0.7" opacity="0.85"/>
<rect x="503.50" y="110.90" width="2.60" height="4.40" fill="#E4E4E4" stroke="#3A3A3A" stroke-width="0.6" />
<line x1="503.50" y1="113.20" x2="506.10" y2="113.20" stroke="#222" stroke-width="0.8" />
<polygon points="525.10,25.50 525.13,25.87 525.17,26.28 525.22,26.81 525.27,27.56 525.31,28.59 525.35,30.00 525.37,31.78 525.39,33.85 525.41,36.22 525.42,38.87 525.43,41.80 525.45,45.00 525.47,48.78 525.49,53.22 525.51,57.94 525.53,62.56 525.56,66.70 525.60,70.00 525.65,72.33 525.71,73.96 525.78,75.12 525.85,76.04 525.93,76.92 526.00,78.00 526.07,79.27 526.13,80.56 526.19,81.81 526.26,83.00 526.34,84.08 526.45,85.00 526.59,85.72 526.75,86.27 526.93,86.71 527.11,87.10 527.29,87.51 527.45,88.00 527.61,88.57 527.79,89.16 527.97,89.77 528.11,90.40 528.19,91.04 528.20,91.70 528.10,92.36 527.91,93.03 527.67,93.71 527.40,94.42 527.15,95.18 526.95,96.00 526.79,96.82 526.64,97.61 526.50,98.46 526.38,99.42 526.28,100.58 526.20,102.00 526.15,103.81 526.13,105.97 526.13,108.32 526.13,110.71 526.13,112.99 526.10,115.00 526.05,116.82 525.97,118.60 525.89,120.26 525.81,121.74 525.75,122.98 525.70,123.90 523.70,123.90 523.65,122.98 523.59,121.74 523.51,120.26 523.43,118.60 523.35,116.82 523.30,115.00 523.27,112.99 523.27,110.71 523.27,108.32 523.27,105.97 523.25,103.81 523.20,102.00 523.12,100.58 523.02,99.42 522.90,98.46 522.76,97.61 522.61,96.82 522.45,96.00 522.25,95.18 522.00,94.42 521.73,93.71 521.49,93.03 521.30,92.36 521.20,91.70 521.21,91.04 521.29,90.40 521.43,89.77 521.61,89.16 521.79,88.57 521.95,88.00 522.11,87.51 522.29,87.10 522.47,86.71 522.65,86.27 522.81,85.72 522.95,85.00 523.06,84.08 523.14,83.00 523.21,81.81 523.27,80.56 523.33,79.27 523.40,78.00 523.47,76.92 523.55,76.04 523.62,75.12 523.69,73.96 523.75,72.33 523.80,70.00 523.84,66.70 523.87,62.56 523.89,57.94 523.91,53.22 523.93,48.78 523.95,45.00 523.97,41.80 523.98,38.87 523.99,36.22 524.01,33.85 524.03,31.78 524.05,30.00 524.09,28.59 524.13,27.56 524.18,26.81 524.23,26.28 524.27,25.87 524.30,25.50" fill="#00BFC4"/>
<line x1="524.70" y1="75.00" x2="524.70" y2="123.00" stroke="#333" stroke-width="0.7" opacity="0.85"/>
<rect x="523.50" y="91.00" width="2.40" height="9.70" fill="#E4E4E4" stroke="#3A3A3A" stroke-width="0.6" />
<line x1="523.50" y1="95.00" x2="525.90" y2="95.00" stroke="#222" stroke-width="0.8" />
<circle cx="524.70" cy="35.00" r="1.0" fill="#000"/>
<circle cx="524.70" cy="72.90" r="1.0" fill="#000"/>
<line x1="397.90" y1="20.50" x2="397.90" y2="124.40" stroke="#000" stroke-width="1.2" />
<line x1="397.40" y1="123.90" x2="541.70" y2="123.90" stroke="#000" stroke-width="1.2" />
<line x1="395.50" y1="124.80" x2="397.90" y2="124.80" stroke="#000" stroke-width="0.7" />
<text x="0" y="0" font-size="9.3" text-anchor="end" fill="#1A1A1A" transform="translate(395.10,128.73) scale(1,1.07)">0</text>
<line x1="395.50" y1="100.60" x2="397.90" y2="100.60" stroke="#000" stroke-width="0.7" />
<text x="0" y="0" font-size="9.3" text-anchor="end" fill="#1A1A1A" transform="translate(395.10,104.53) scale(1,1.07)">10</text>
<line x1="395.50" y1="76.30" x2="397.90" y2="76.30" stroke="#000" stroke-width="0.7" />
<text x="0" y="0" font-size="9.3" text-anchor="end" fill="#1A1A1A" transform="translate(395.10,80.23) scale(1,1.07)">20</text>
<line x1="395.50" y1="52.00" x2="397.90" y2="52.00" stroke="#000" stroke-width="0.7" />
<text x="0" y="0" font-size="9.3" text-anchor="end" fill="#1A1A1A" transform="translate(395.10,55.93) scale(1,1.07)">30</text>
<line x1="395.50" y1="27.70" x2="397.90" y2="27.70" stroke="#000" stroke-width="0.7" />
<text x="0" y="0" font-size="9.3" text-anchor="end" fill="#1A1A1A" transform="translate(395.10,31.63) scale(1,1.07)">40</text>
<line x1="424.80" y1="123.90" x2="424.80" y2="125.70" stroke="#000" stroke-width="0.6" />
<text x="0" y="0" font-size="9.6" text-anchor="middle" font-weight="normal" font-style="normal" fill="#111" transform="translate(424.80,135.14) scale(1,1.07)" >2-month</text>
<line x1="469.80" y1="123.90" x2="469.80" y2="125.70" stroke="#000" stroke-width="0.6" />
<text x="0" y="0" font-size="9.6" text-anchor="middle" font-weight="normal" font-style="normal" fill="#111" transform="translate(469.80,135.14) scale(1,1.07)" >6-month</text>
<line x1="514.80" y1="123.90" x2="514.80" y2="125.70" stroke="#000" stroke-width="0.6" />
<text x="0" y="0" font-size="9.6" text-anchor="middle" font-weight="normal" font-style="normal" fill="#111" transform="translate(514.80,135.14) scale(1,1.07)" >Outcome</text>
<text x="0" y="0" font-size="9.6" text-anchor="middle" font-weight="normal" font-style="normal" fill="#111" transform="translate(469.80,145.24) scale(1,1.07)" >Sputum culture conversion time</text>
<text x="0.00" y="0.00" font-size="9.6" text-anchor="middle" font-weight="normal" font-style="normal" fill="#111" transform="translate(377.8,72.6) rotate(-90) scale(1,1.07)">AUC<tspan font-size="6.6" dy="1.8">0-24h</tspan><tspan dy="-1.8">/MIC</tspan></text>
<rect x="46.30" y="172.70" width="121.90" height="104.80" fill="none" stroke="#EBEBEB" stroke-width="0.8" />
<rect x="46.30" y="159.80" width="121.90" height="13.20" fill="#D9D9D9" stroke="none" stroke-width="0" />
<text x="0" y="0" font-size="9.6" text-anchor="middle" font-weight="normal" font-style="normal" fill="#111" transform="translate(107.25,169.54) scale(1,1.07)" >LZD</text>
<rect x="46.30" y="285.90" width="121.90" height="114.30" fill="none" stroke="#EBEBEB" stroke-width="0.8" />
<line x1="45.80" y1="277.50" x2="168.20" y2="277.50" stroke="#000" stroke-width="1.2" />
<line x1="45.80" y1="400.20" x2="168.20" y2="400.20" stroke="#000" stroke-width="1.2" />
<line x1="69.20" y1="277.50" x2="69.20" y2="279.10" stroke="#000" stroke-width="0.6" />
<line x1="69.20" y1="400.20" x2="69.20" y2="401.80" stroke="#000" stroke-width="0.6" />
<text x="0" y="0" font-size="9.6" text-anchor="middle" font-weight="normal" font-style="normal" fill="#111" transform="translate(69.20,411.84) scale(1,1.07)" >2-month</text>
<line x1="107.30" y1="277.50" x2="107.30" y2="279.10" stroke="#000" stroke-width="0.6" />
<line x1="107.30" y1="400.20" x2="107.30" y2="401.80" stroke="#000" stroke-width="0.6" />
<text x="0" y="0" font-size="9.6" text-anchor="middle" font-weight="normal" font-style="normal" fill="#111" transform="translate(107.30,411.84) scale(1,1.07)" >6-month</text>
<line x1="145.40" y1="277.50" x2="145.40" y2="279.10" stroke="#000" stroke-width="0.6" />
<line x1="145.40" y1="400.20" x2="145.40" y2="401.80" stroke="#000" stroke-width="0.6" />
<text x="0" y="0" font-size="9.6" text-anchor="middle" font-weight="normal" font-style="normal" fill="#111" transform="translate(145.40,411.84) scale(1,1.07)" >Outcome</text>
<rect x="170.90" y="172.70" width="121.50" height="104.80" fill="none" stroke="#EBEBEB" stroke-width="0.8" />
<rect x="170.90" y="159.80" width="121.50" height="13.20" fill="#D9D9D9" stroke="none" stroke-width="0" />
<text x="0" y="0" font-size="9.6" text-anchor="middle" font-weight="normal" font-style="normal" fill="#111" transform="translate(231.65,169.54) scale(1,1.07)" >MFX</text>
<rect x="170.90" y="285.90" width="121.50" height="114.30" fill="none" stroke="#EBEBEB" stroke-width="0.8" />
<line x1="170.90" y1="277.50" x2="292.40" y2="277.50" stroke="#000" stroke-width="1.2" />
<line x1="170.90" y1="400.20" x2="292.40" y2="400.20" stroke="#000" stroke-width="1.2" />
<line x1="193.80" y1="277.50" x2="193.80" y2="279.10" stroke="#000" stroke-width="0.6" />
<line x1="193.80" y1="400.20" x2="193.80" y2="401.80" stroke="#000" stroke-width="0.6" />
<text x="0" y="0" font-size="9.6" text-anchor="middle" font-weight="normal" font-style="normal" fill="#111" transform="translate(193.80,411.84) scale(1,1.07)" >2-month</text>
<line x1="231.90" y1="277.50" x2="231.90" y2="279.10" stroke="#000" stroke-width="0.6" />
<line x1="231.90" y1="400.20" x2="231.90" y2="401.80" stroke="#000" stroke-width="0.6" />
<text x="0" y="0" font-size="9.6" text-anchor="middle" font-weight="normal" font-style="normal" fill="#111" transform="translate(231.90,411.84) scale(1,1.07)" >6-month</text>
<line x1="270.00" y1="277.50" x2="270.00" y2="279.10" stroke="#000" stroke-width="0.6" />
<line x1="270.00" y1="400.20" x2="270.00" y2="401.80" stroke="#000" stroke-width="0.6" />
<text x="0" y="0" font-size="9.6" text-anchor="middle" font-weight="normal" font-style="normal" fill="#111" transform="translate(270.00,411.84) scale(1,1.07)" >Outcome</text>
<rect x="295.60" y="172.70" width="122.00" height="104.80" fill="none" stroke="#EBEBEB" stroke-width="0.8" />
<rect x="295.60" y="159.80" width="122.00" height="13.20" fill="#D9D9D9" stroke="none" stroke-width="0" />
<text x="0" y="0" font-size="9.6" text-anchor="middle" font-weight="normal" font-style="normal" fill="#111" transform="translate(356.60,169.54) scale(1,1.07)" >MFX+BDQ+LZD</text>
<rect x="295.60" y="285.90" width="122.00" height="114.30" fill="none" stroke="#EBEBEB" stroke-width="0.8" />
<line x1="295.60" y1="277.50" x2="417.60" y2="277.50" stroke="#000" stroke-width="1.2" />
<line x1="295.60" y1="400.20" x2="417.60" y2="400.20" stroke="#000" stroke-width="1.2" />
<line x1="318.50" y1="277.50" x2="318.50" y2="279.10" stroke="#000" stroke-width="0.6" />
<line x1="318.50" y1="400.20" x2="318.50" y2="401.80" stroke="#000" stroke-width="0.6" />
<text x="0" y="0" font-size="9.6" text-anchor="middle" font-weight="normal" font-style="normal" fill="#111" transform="translate(318.50,411.84) scale(1,1.07)" >2-month</text>
<line x1="356.60" y1="277.50" x2="356.60" y2="279.10" stroke="#000" stroke-width="0.6" />
<line x1="356.60" y1="400.20" x2="356.60" y2="401.80" stroke="#000" stroke-width="0.6" />
<text x="0" y="0" font-size="9.6" text-anchor="middle" font-weight="normal" font-style="normal" fill="#111" transform="translate(356.60,411.84) scale(1,1.07)" >6-month</text>
<line x1="394.70" y1="277.50" x2="394.70" y2="279.10" stroke="#000" stroke-width="0.6" />
<line x1="394.70" y1="400.20" x2="394.70" y2="401.80" stroke="#000" stroke-width="0.6" />
<text x="0" y="0" font-size="9.6" text-anchor="middle" font-weight="normal" font-style="normal" fill="#111" transform="translate(394.70,411.84) scale(1,1.07)" >Outcome</text>
<rect x="419.80" y="172.70" width="121.70" height="104.80" fill="none" stroke="#EBEBEB" stroke-width="0.8" />
<rect x="419.80" y="159.80" width="121.70" height="13.20" fill="#D9D9D9" stroke="none" stroke-width="0" />
<text x="0" y="0" font-size="9.6" text-anchor="middle" font-weight="normal" font-style="normal" fill="#111" transform="translate(480.65,169.54) scale(1,1.07)" >MFX+LZD</text>
<rect x="419.80" y="285.90" width="121.70" height="114.30" fill="none" stroke="#EBEBEB" stroke-width="0.8" />
<line x1="419.80" y1="277.50" x2="541.50" y2="277.50" stroke="#000" stroke-width="1.2" />
<line x1="419.80" y1="400.20" x2="541.50" y2="400.20" stroke="#000" stroke-width="1.2" />
<line x1="442.70" y1="277.50" x2="442.70" y2="279.10" stroke="#000" stroke-width="0.6" />
<line x1="442.70" y1="400.20" x2="442.70" y2="401.80" stroke="#000" stroke-width="0.6" />
<text x="0" y="0" font-size="9.6" text-anchor="middle" font-weight="normal" font-style="normal" fill="#111" transform="translate(442.70,411.84) scale(1,1.07)" >2-month</text>
<line x1="480.80" y1="277.50" x2="480.80" y2="279.10" stroke="#000" stroke-width="0.6" />
<line x1="480.80" y1="400.20" x2="480.80" y2="401.80" stroke="#000" stroke-width="0.6" />
<text x="0" y="0" font-size="9.6" text-anchor="middle" font-weight="normal" font-style="normal" fill="#111" transform="translate(480.80,411.84) scale(1,1.07)" >6-month</text>
<line x1="518.90" y1="277.50" x2="518.90" y2="279.10" stroke="#000" stroke-width="0.6" />
<line x1="518.90" y1="400.20" x2="518.90" y2="401.80" stroke="#000" stroke-width="0.6" />
<text x="0" y="0" font-size="9.6" text-anchor="middle" font-weight="normal" font-style="normal" fill="#111" transform="translate(518.90,411.84) scale(1,1.07)" >Outcome</text>
<line x1="46.30" y1="172.70" x2="46.30" y2="278.00" stroke="#000" stroke-width="1.2" />
<line x1="46.30" y1="285.90" x2="46.30" y2="400.70" stroke="#000" stroke-width="1.2" />
<line x1="43.90" y1="278.00" x2="46.30" y2="278.00" stroke="#000" stroke-width="0.7" />
<text x="0" y="0" font-size="9.3" text-anchor="end" fill="#1A1A1A" transform="translate(43.50,281.93) scale(1,1.07)">0</text>
<line x1="43.90" y1="257.60" x2="46.30" y2="257.60" stroke="#000" stroke-width="0.7" />
<text x="0" y="0" font-size="9.3" text-anchor="end" fill="#1A1A1A" transform="translate(43.50,261.53) scale(1,1.07)">250</text>
<line x1="43.90" y1="237.20" x2="46.30" y2="237.20" stroke="#000" stroke-width="0.7" />
<text x="0" y="0" font-size="9.3" text-anchor="end" fill="#1A1A1A" transform="translate(43.50,241.13) scale(1,1.07)">500</text>
<line x1="43.90" y1="216.80" x2="46.30" y2="216.80" stroke="#000" stroke-width="0.7" />
<text x="0" y="0" font-size="9.3" text-anchor="end" fill="#1A1A1A" transform="translate(43.50,220.73) scale(1,1.07)">750</text>
<line x1="43.90" y1="196.60" x2="46.30" y2="196.60" stroke="#000" stroke-width="0.7" />
<text x="0" y="0" font-size="9.3" text-anchor="end" fill="#1A1A1A" transform="translate(43.50,200.53) scale(1,1.07)">1000</text>
<line x1="43.90" y1="400.40" x2="46.30" y2="400.40" stroke="#000" stroke-width="0.7" />
<text x="0" y="0" font-size="9.3" text-anchor="end" fill="#1A1A1A" transform="translate(43.50,404.33) scale(1,1.07)">0</text>
<line x1="43.90" y1="373.70" x2="46.30" y2="373.70" stroke="#000" stroke-width="0.7" />
<text x="0" y="0" font-size="9.3" text-anchor="end" fill="#1A1A1A" transform="translate(43.50,377.63) scale(1,1.07)">10</text>
<line x1="43.90" y1="347.00" x2="46.30" y2="347.00" stroke="#000" stroke-width="0.7" />
<text x="0" y="0" font-size="9.3" text-anchor="end" fill="#1A1A1A" transform="translate(43.50,350.93) scale(1,1.07)">20</text>
<line x1="43.90" y1="320.30" x2="46.30" y2="320.30" stroke="#000" stroke-width="0.7" />
<text x="0" y="0" font-size="9.3" text-anchor="end" fill="#1A1A1A" transform="translate(43.50,324.23) scale(1,1.07)">30</text>
<line x1="43.90" y1="293.60" x2="46.30" y2="293.60" stroke="#000" stroke-width="0.7" />
<text x="0" y="0" font-size="9.3" text-anchor="end" fill="#1A1A1A" transform="translate(43.50,297.53) scale(1,1.07)">40</text>
<text x="0.00" y="0.00" font-size="9.75" text-anchor="middle" font-weight="normal" font-style="normal" fill="#111" transform="translate(14.9,225.0) rotate(-90) scale(1,1.07)">AUC<tspan font-size="6.6" dy="1.8">0-24h</tspan><tspan dy="-1.8"> (mg·h·L</tspan><tspan font-size="6.6" dy="-3.5">-1</tspan><tspan dy="3.5">)</tspan></text>
<text x="0.00" y="0.00" font-size="9.6" text-anchor="middle" font-weight="normal" font-style="normal" fill="#111" transform="translate(15.0,343.6) rotate(-90) scale(1,1.07)">AUC<tspan font-size="6.6" dy="1.8">0-24h</tspan><tspan dy="-1.8">/MIC</tspan></text>
<text x="0" y="0" font-size="9.6" text-anchor="middle" font-weight="normal" font-style="italic" fill="#111" transform="translate(107.30,182.14) scale(1,1.07)" >p&lt;0.001</text>
<text x="0" y="0" font-size="9.6" text-anchor="middle" font-weight="normal" font-style="italic" fill="#111" transform="translate(107.30,296.64) scale(1,1.07)" >p&lt;0.001</text>
<text x="0" y="0" font-size="9.6" text-anchor="middle" font-weight="normal" font-style="italic" fill="#111" transform="translate(145.40,182.14) scale(1,1.07)" >p&lt;0.001</text>
<text x="0" y="0" font-size="9.6" text-anchor="middle" font-weight="normal" font-style="italic" fill="#111" transform="translate(145.40,296.64) scale(1,1.07)" >p&lt;0.001</text>
<text x="0" y="0" font-size="9.6" text-anchor="middle" font-weight="normal" font-style="italic" fill="#111" transform="translate(193.80,180.84) scale(1,1.07)" >p&lt;0.05</text>
<text x="0" y="0" font-size="9.6" text-anchor="middle" font-weight="normal" font-style="italic" fill="#111" transform="translate(193.80,294.84) scale(1,1.07)" >p&lt;0.001</text>
<text x="0" y="0" font-size="9.6" text-anchor="middle" font-weight="normal" font-style="italic" fill="#111" transform="translate(231.90,180.84) scale(1,1.07)" >p&lt;0.001</text>
<text x="0" y="0" font-size="9.6" text-anchor="middle" font-weight="normal" font-style="italic" fill="#111" transform="translate(231.90,294.84) scale(1,1.07)" >p&lt;0.001</text>
<text x="0" y="0" font-size="9.6" text-anchor="middle" font-weight="normal" font-style="italic" fill="#111" transform="translate(270.00,180.84) scale(1,1.07)" >p&lt;0.001</text>
<text x="0" y="0" font-size="9.6" text-anchor="middle" font-weight="normal" font-style="italic" fill="#111" transform="translate(270.00,294.84) scale(1,1.07)" >p&lt;0.001</text>
<text x="0" y="0" font-size="9.6" text-anchor="middle" font-weight="normal" font-style="italic" fill="#111" transform="translate(318.50,180.84) scale(1,1.07)" >p&gt;0.05</text>
<text x="0" y="0" font-size="9.6" text-anchor="middle" font-weight="normal" font-style="italic" fill="#111" transform="translate(318.50,294.84) scale(1,1.07)" >p&lt;0.001</text>
<text x="0" y="0" font-size="9.6" text-anchor="middle" font-weight="normal" font-style="italic" fill="#111" transform="translate(356.60,180.84) scale(1,1.07)" >p&lt;0.01</text>
<text x="0" y="0" font-size="9.6" text-anchor="middle" font-weight="normal" font-style="italic" fill="#111" transform="translate(356.60,294.84) scale(1,1.07)" >p&lt;0.001</text>
<text x="0" y="0" font-size="9.6" text-anchor="middle" font-weight="normal" font-style="italic" fill="#111" transform="translate(394.70,180.84) scale(1,1.07)" >p&lt;0.05</text>
<text x="0" y="0" font-size="9.6" text-anchor="middle" font-weight="normal" font-style="italic" fill="#111" transform="translate(394.70,294.84) scale(1,1.07)" >p&lt;0.001</text>
<text x="0" y="0" font-size="9.6" text-anchor="middle" font-weight="normal" font-style="italic" fill="#111" transform="translate(442.70,180.84) scale(1,1.07)" >p&lt;0.01</text>
<text x="0" y="0" font-size="9.6" text-anchor="middle" font-weight="normal" font-style="italic" fill="#111" transform="translate(442.70,294.84) scale(1,1.07)" >p&lt;0.001</text>
<text x="0" y="0" font-size="9.6" text-anchor="middle" font-weight="normal" font-style="italic" fill="#111" transform="translate(480.80,180.84) scale(1,1.07)" >p&lt;0.001</text>
<text x="0" y="0" font-size="9.6" text-anchor="middle" font-weight="normal" font-style="italic" fill="#111" transform="translate(480.80,294.84) scale(1,1.07)" >p&lt;0.001</text>
<text x="0" y="0" font-size="9.6" text-anchor="middle" font-weight="normal" font-style="italic" fill="#111" transform="translate(518.90,180.84) scale(1,1.07)" >p&lt;0.001</text>
<text x="0" y="0" font-size="9.6" text-anchor="middle" font-weight="normal" font-style="italic" fill="#111" transform="translate(518.90,294.84) scale(1,1.07)" >p&lt;0.001</text>
<polygon points="69.20,172.10 69.22,172.96 69.25,174.14 69.28,175.55 69.31,177.07 69.36,178.59 69.40,180.00 69.45,181.30 69.49,182.59 69.54,183.87 69.60,185.18 69.67,186.55 69.75,188.00 69.85,189.55 69.96,191.19 70.08,192.88 70.22,194.59 70.36,196.31 70.50,198.00 70.65,199.67 70.81,201.33 70.98,203.00 71.15,204.67 71.32,206.33 71.50,208.00 71.69,209.41 71.91,210.52 72.12,211.62 72.33,213.04 72.51,215.06 72.65,218.00 72.75,222.29 72.83,227.78 72.88,233.88 72.91,240.00 72.91,245.57 72.90,250.00 72.86,253.20 72.80,255.63 72.71,257.50 72.61,259.04 72.51,260.46 72.40,262.00 72.29,263.60 72.17,265.07 72.04,266.44 71.91,267.70 71.78,268.89 71.65,270.00 71.53,271.04 71.41,271.99 71.29,272.86 71.17,273.64 71.04,274.36 70.90,275.00 70.74,275.57 70.55,276.05 70.35,276.46 70.17,276.80 70.01,277.08 69.90,277.30 67.90,277.30 67.79,277.08 67.63,276.80 67.45,276.46 67.25,276.05 67.06,275.57 66.90,275.00 66.76,274.36 66.63,273.64 66.51,272.86 66.39,271.99 66.27,271.04 66.15,270.00 66.02,268.89 65.89,267.70 65.76,266.44 65.63,265.07 65.51,263.60 65.40,262.00 65.29,260.46 65.19,259.04 65.09,257.50 65.00,255.63 64.94,253.20 64.90,250.00 64.89,245.57 64.89,240.00 64.92,233.88 64.97,227.78 65.05,222.29 65.15,218.00 65.29,215.06 65.47,213.04 65.68,211.62 65.89,210.52 66.11,209.41 66.30,208.00 66.48,206.33 66.65,204.67 66.83,203.00 66.99,201.33 67.15,199.67 67.30,198.00 67.44,196.31 67.58,194.59 67.72,192.88 67.84,191.19 67.95,189.55 68.05,188.00 68.13,186.55 68.20,185.18 68.26,183.87 68.31,182.59 68.35,181.30 68.40,180.00 68.44,178.59 68.49,177.07 68.52,175.55 68.55,174.14 68.58,172.96 68.60,172.10" fill="#F8766D"/>
<line x1="68.90" y1="211.00" x2="68.90" y2="276.00" stroke="#333" stroke-width="0.7" opacity="0.85"/>
<rect x="67.00" y="219.40" width="3.80" height="36.20" fill="#FAFAFA" stroke="#3A3A3A" stroke-width="0.6" />
<line x1="67.00" y1="225.30" x2="70.80" y2="225.30" stroke="#222" stroke-width="0.8" />
<polygon points="98.90,237.50 98.94,238.00 98.99,238.69 99.05,239.50 99.12,240.37 99.22,241.23 99.35,242.00 99.50,242.70 99.68,243.37 99.88,244.03 100.10,244.69 100.34,245.34 100.60,246.00 100.90,246.64 101.23,247.26 101.58,247.88 101.94,248.52 102.29,249.22 102.60,250.00 102.91,250.90 103.23,251.89 103.54,252.94 103.80,254.00 104.00,255.03 104.10,256.00 104.08,256.89 103.97,257.74 103.79,258.56 103.56,259.37 103.32,260.18 103.10,261.00 102.86,261.84 102.56,262.70 102.26,263.56 101.97,264.41 101.74,265.22 101.60,266.00 101.58,266.72 101.66,267.41 101.79,268.06 101.93,268.70 102.05,269.34 102.10,270.00 102.09,270.67 102.05,271.36 101.99,272.04 101.90,272.72 101.77,273.37 101.60,274.00 101.36,274.63 101.04,275.27 100.69,275.90 100.35,276.47 100.05,276.95 99.85,277.30 97.35,277.30 97.15,276.95 96.85,276.47 96.51,275.90 96.16,275.27 95.84,274.63 95.60,274.00 95.43,273.37 95.30,272.72 95.21,272.04 95.15,271.36 95.11,270.67 95.10,270.00 95.15,269.34 95.27,268.70 95.41,268.06 95.54,267.41 95.62,266.72 95.60,266.00 95.46,265.22 95.23,264.41 94.94,263.56 94.64,262.70 94.34,261.84 94.10,261.00 93.88,260.18 93.64,259.37 93.41,258.56 93.23,257.74 93.12,256.89 93.10,256.00 93.20,255.03 93.40,254.00 93.66,252.94 93.97,251.89 94.29,250.90 94.60,250.00 94.91,249.22 95.26,248.52 95.62,247.88 95.97,247.26 96.30,246.64 96.60,246.00 96.86,245.34 97.10,244.69 97.32,244.03 97.52,243.37 97.70,242.70 97.85,242.00 97.98,241.23 98.08,240.37 98.15,239.50 98.21,238.69 98.26,238.00 98.30,237.50" fill="#F8766D"/>
<line x1="98.60" y1="248.90" x2="98.60" y2="270.90" stroke="#333" stroke-width="0.7" opacity="0.85"/>
<rect x="97.30" y="254.60" width="2.60" height="9.60" fill="#E4E4E4" stroke="#3A3A3A" stroke-width="0.6" />
<line x1="97.30" y1="259.00" x2="99.90" y2="259.00" stroke="#222" stroke-width="0.8" />
<polygon points="136.80,237.50 136.84,238.00 136.89,238.69 136.95,239.50 137.02,240.37 137.12,241.23 137.25,242.00 137.40,242.70 137.58,243.37 137.78,244.03 138.00,244.69 138.24,245.34 138.50,246.00 138.80,246.64 139.13,247.26 139.48,247.88 139.84,248.52 140.19,249.22 140.50,250.00 140.81,250.90 141.13,251.89 141.44,252.94 141.70,254.00 141.90,255.03 142.00,256.00 141.98,256.89 141.87,257.74 141.69,258.56 141.46,259.37 141.22,260.18 141.00,261.00 140.76,261.84 140.46,262.70 140.16,263.56 139.87,264.41 139.64,265.22 139.50,266.00 139.48,266.72 139.56,267.41 139.69,268.06 139.83,268.70 139.95,269.34 140.00,270.00 139.99,270.67 139.95,271.36 139.89,272.04 139.80,272.72 139.67,273.37 139.50,274.00 139.26,274.63 138.94,275.27 138.59,275.90 138.25,276.47 137.95,276.95 137.75,277.30 135.25,277.30 135.05,276.95 134.75,276.47 134.41,275.90 134.06,275.27 133.74,274.63 133.50,274.00 133.33,273.37 133.20,272.72 133.11,272.04 133.05,271.36 133.01,270.67 133.00,270.00 133.05,269.34 133.17,268.70 133.31,268.06 133.44,267.41 133.52,266.72 133.50,266.00 133.36,265.22 133.13,264.41 132.84,263.56 132.54,262.70 132.24,261.84 132.00,261.00 131.78,260.18 131.54,259.37 131.31,258.56 131.13,257.74 131.02,256.89 131.00,256.00 131.10,255.03 131.30,254.00 131.56,252.94 131.87,251.89 132.19,250.90 132.50,250.00 132.81,249.22 133.16,248.52 133.52,247.88 133.87,247.26 134.20,246.64 134.50,246.00 134.76,245.34 135.00,244.69 135.22,244.03 135.42,243.37 135.60,242.70 135.75,242.00 135.88,241.23 135.98,240.37 136.05,239.50 136.11,238.69 136.16,238.00 136.20,237.50" fill="#F8766D"/>
<line x1="136.50" y1="248.90" x2="136.50" y2="270.90" stroke="#333" stroke-width="0.7" opacity="0.85"/>
<rect x="135.20" y="254.60" width="2.60" height="9.60" fill="#E4E4E4" stroke="#3A3A3A" stroke-width="0.6" />
<line x1="135.20" y1="259.00" x2="137.80" y2="259.00" stroke="#222" stroke-width="0.8" />
<polygon points="115.90,202.90 116.02,203.13 116.19,203.45 116.39,203.83 116.61,204.23 116.85,204.63 117.10,205.00 117.37,205.33 117.68,205.66 118.00,205.97 118.31,206.30 118.60,206.64 118.85,207.00 119.06,207.39 119.26,207.80 119.44,208.22 119.58,208.65 119.67,209.08 119.70,209.50 119.65,209.92 119.52,210.36 119.34,210.79 119.15,211.22 118.98,211.62 118.85,212.00 118.75,212.34 118.64,212.64 118.55,212.92 118.49,213.20 118.50,213.48 118.60,213.80 118.78,214.14 119.03,214.48 119.35,214.84 119.72,215.21 120.14,215.59 120.60,216.00 121.19,216.43 121.94,216.87 122.74,217.34 123.48,217.81 124.07,218.30 124.40,218.80 124.44,219.30 124.28,219.81 123.96,220.33 123.53,220.86 123.06,221.42 122.60,222.00 122.10,222.63 121.50,223.29 120.86,223.98 120.22,224.67 119.62,225.35 119.10,226.00 118.67,226.61 118.29,227.20 117.96,227.78 117.65,228.35 117.37,228.92 117.10,229.50 116.84,230.12 116.60,230.80 116.38,231.47 116.18,232.09 116.02,232.62 115.90,233.00 115.30,233.00 115.18,232.62 115.02,232.09 114.82,231.47 114.60,230.80 114.36,230.12 114.10,229.50 113.83,228.92 113.55,228.35 113.24,227.78 112.91,227.20 112.53,226.61 112.10,226.00 111.58,225.35 110.98,224.67 110.34,223.98 109.70,223.29 109.10,222.63 108.60,222.00 108.14,221.42 107.67,220.86 107.24,220.33 106.92,219.81 106.76,219.30 106.80,218.80 107.13,218.30 107.72,217.81 108.46,217.34 109.26,216.87 110.01,216.43 110.60,216.00 111.06,215.59 111.48,215.21 111.85,214.84 112.17,214.48 112.42,214.14 112.60,213.80 112.70,213.48 112.71,213.20 112.65,212.92 112.56,212.64 112.45,212.34 112.35,212.00 112.22,211.62 112.05,211.22 111.86,210.79 111.68,210.36 111.55,209.92 111.50,209.50 111.53,209.08 111.62,208.65 111.76,208.22 111.94,207.80 112.14,207.39 112.35,207.00 112.60,206.64 112.89,206.30 113.20,205.97 113.52,205.66 113.83,205.33 114.10,205.00 114.35,204.63 114.59,204.23 114.81,203.83 115.01,203.45 115.18,203.13 115.30,202.90" fill="#00BFC4"/>
<line x1="115.60" y1="209.00" x2="115.60" y2="229.00" stroke="#333" stroke-width="0.7" opacity="0.85"/>
<rect x="114.40" y="216.30" width="2.40" height="5.70" fill="#E4E4E4" stroke="#3A3A3A" stroke-width="0.6" />
<line x1="114.40" y1="219.00" x2="116.80" y2="219.00" stroke="#222" stroke-width="0.8" />
<polygon points="154.10,202.90 154.22,203.13 154.39,203.45 154.59,203.83 154.81,204.23 155.05,204.63 155.30,205.00 155.57,205.33 155.88,205.66 156.20,205.97 156.51,206.30 156.80,206.64 157.05,207.00 157.26,207.39 157.46,207.80 157.64,208.22 157.78,208.65 157.87,209.08 157.90,209.50 157.85,209.92 157.72,210.36 157.54,210.79 157.35,211.22 157.18,211.62 157.05,212.00 156.95,212.34 156.84,212.64 156.75,212.92 156.69,213.20 156.70,213.48 156.80,213.80 156.98,214.14 157.23,214.48 157.55,214.84 157.92,215.21 158.34,215.59 158.80,216.00 159.39,216.43 160.14,216.87 160.94,217.34 161.68,217.81 162.27,218.30 162.60,218.80 162.64,219.30 162.48,219.81 162.16,220.33 161.73,220.86 161.26,221.42 160.80,222.00 160.30,222.63 159.70,223.29 159.06,223.98 158.42,224.67 157.82,225.35 157.30,226.00 156.87,226.61 156.49,227.20 156.16,227.78 155.85,228.35 155.57,228.92 155.30,229.50 155.04,230.12 154.80,230.80 154.58,231.47 154.38,232.09 154.22,232.62 154.10,233.00 153.50,233.00 153.38,232.62 153.22,232.09 153.03,231.47 152.80,230.80 152.56,230.12 152.30,229.50 152.03,228.92 151.75,228.35 151.44,227.78 151.11,227.20 150.73,226.61 150.30,226.00 149.78,225.35 149.18,224.67 148.54,223.98 147.90,223.29 147.30,222.63 146.80,222.00 146.34,221.42 145.87,220.86 145.44,220.33 145.12,219.81 144.96,219.30 145.00,218.80 145.33,218.30 145.92,217.81 146.66,217.34 147.46,216.87 148.21,216.43 148.80,216.00 149.26,215.59 149.68,215.21 150.05,214.84 150.37,214.48 150.62,214.14 150.80,213.80 150.90,213.48 150.91,213.20 150.85,212.92 150.76,212.64 150.65,212.34 150.55,212.00 150.42,211.62 150.25,211.22 150.06,210.79 149.88,210.36 149.75,209.92 149.70,209.50 149.73,209.08 149.82,208.65 149.96,208.22 150.14,207.80 150.34,207.39 150.55,207.00 150.80,206.64 151.09,206.30 151.40,205.97 151.72,205.66 152.03,205.33 152.30,205.00 152.55,204.63 152.79,204.23 153.01,203.83 153.21,203.45 153.38,203.13 153.50,202.90" fill="#00BFC4"/>
<line x1="153.80" y1="209.00" x2="153.80" y2="229.00" stroke="#333" stroke-width="0.7" opacity="0.85"/>
<rect x="152.60" y="216.30" width="2.40" height="5.70" fill="#E4E4E4" stroke="#3A3A3A" stroke-width="0.6" />
<line x1="152.60" y1="219.00" x2="155.00" y2="219.00" stroke="#222" stroke-width="0.8" />
<polygon points="185.40,202.90 185.46,204.12 185.54,205.74 185.64,207.70 185.74,209.93 185.83,212.39 185.90,215.00 185.95,218.00 185.99,221.49 186.01,225.19 186.04,228.86 186.06,232.21 186.10,235.00 186.13,237.18 186.16,238.96 186.19,240.44 186.23,241.70 186.30,242.86 186.40,244.00 186.54,245.08 186.70,246.00 186.89,246.81 187.11,247.56 187.34,248.27 187.60,249.00 187.89,249.72 188.23,250.39 188.58,251.04 188.94,251.67 189.29,252.32 189.60,253.00 189.91,253.72 190.25,254.47 190.57,255.22 190.84,255.98 191.03,256.71 191.10,257.40 191.04,258.05 190.86,258.68 190.60,259.29 190.29,259.87 189.94,260.44 189.60,261.00 189.22,261.52 188.77,262.01 188.30,262.48 187.84,262.95 187.42,263.45 187.10,264.00 186.87,264.60 186.72,265.22 186.61,265.88 186.54,266.56 186.47,267.26 186.40,268.00 186.33,268.79 186.29,269.64 186.25,270.53 186.21,271.40 186.17,272.24 186.10,273.00 186.00,273.72 185.87,274.44 185.73,275.11 185.60,275.72 185.48,276.22 185.40,276.60 184.80,276.60 184.72,276.22 184.60,275.72 184.47,275.11 184.33,274.44 184.20,273.72 184.10,273.00 184.03,272.24 183.99,271.40 183.95,270.53 183.91,269.64 183.87,268.79 183.80,268.00 183.73,267.26 183.66,266.56 183.59,265.88 183.48,265.22 183.33,264.60 183.10,264.00 182.78,263.45 182.36,262.95 181.90,262.48 181.43,262.01 180.98,261.52 180.60,261.00 180.26,260.44 179.91,259.87 179.60,259.29 179.34,258.68 179.16,258.05 179.10,257.40 179.17,256.71 179.36,255.98 179.63,255.22 179.95,254.47 180.29,253.72 180.60,253.00 180.91,252.32 181.26,251.67 181.62,251.04 181.97,250.39 182.31,249.72 182.60,249.00 182.86,248.27 183.09,247.56 183.31,246.81 183.50,246.00 183.66,245.08 183.80,244.00 183.90,242.86 183.97,241.70 184.01,240.44 184.04,238.96 184.07,237.18 184.10,235.00 184.14,232.21 184.16,228.86 184.19,225.19 184.21,221.49 184.25,218.00 184.30,215.00 184.37,212.39 184.46,209.93 184.56,207.70 184.66,205.74 184.74,204.12 184.80,202.90" fill="#F8766D"/>
<line x1="185.10" y1="238.00" x2="185.10" y2="270.00" stroke="#333" stroke-width="0.7" opacity="0.85"/>
<rect x="183.95" y="251.00" width="2.30" height="7.60" fill="#E4E4E4" stroke="#3A3A3A" stroke-width="0.6" />
<line x1="183.95" y1="255.00" x2="186.25" y2="255.00" stroke="#222" stroke-width="0.8" />
<circle cx="185.10" cy="211.90" r="1.1" fill="#000"/>
<circle cx="185.10" cy="227.80" r="1.1" fill="#000"/>
<circle cx="185.10" cy="233.90" r="1.1" fill="#000"/>
<circle cx="185.10" cy="271.80" r="1.1" fill="#000"/>
<polygon points="202.70,228.70 202.82,229.17 202.98,229.83 203.18,230.60 203.40,231.43 203.64,232.25 203.90,233.00 204.18,233.67 204.50,234.31 204.83,234.95 205.19,235.60 205.54,236.27 205.90,237.00 206.31,237.81 206.78,238.70 207.26,239.62 207.69,240.52 208.00,241.36 208.15,242.10 208.09,242.71 207.86,243.23 207.53,243.68 207.13,244.11 206.74,244.54 206.40,245.00 206.10,245.45 205.78,245.84 205.46,246.24 205.15,246.70 204.88,247.27 204.65,248.00 204.47,248.90 204.34,249.93 204.24,251.06 204.15,252.30 204.08,253.61 204.00,255.00 203.93,256.52 203.88,258.19 203.84,259.95 203.80,261.72 203.74,263.43 203.65,265.00 203.52,266.52 203.34,268.05 203.15,269.52 202.97,270.86 202.81,271.98 202.70,272.80 202.10,272.80 201.99,271.98 201.83,270.86 201.65,269.52 201.46,268.05 201.28,266.52 201.15,265.00 201.06,263.43 201.00,261.72 200.96,259.95 200.92,258.19 200.87,256.52 200.80,255.00 200.72,253.61 200.65,252.30 200.56,251.06 200.46,249.93 200.33,248.90 200.15,248.00 199.92,247.27 199.65,246.70 199.34,246.24 199.02,245.84 198.70,245.45 198.40,245.00 198.06,244.54 197.67,244.11 197.28,243.68 196.94,243.23 196.71,242.71 196.65,242.10 196.80,241.36 197.11,240.52 197.54,239.62 198.02,238.70 198.49,237.81 198.90,237.00 199.26,236.27 199.61,235.60 199.97,234.95 200.30,234.31 200.62,233.67 200.90,233.00 201.16,232.25 201.40,231.43 201.62,230.60 201.82,229.83 201.98,229.17 202.10,228.70" fill="#00BFC4"/>
<line x1="202.40" y1="234.00" x2="202.40" y2="262.00" stroke="#333" stroke-width="0.7" opacity="0.85"/>
<rect x="201.20" y="241.20" width="2.40" height="9.00" fill="#E4E4E4" stroke="#3A3A3A" stroke-width="0.6" />
<line x1="201.20" y1="247.00" x2="203.60" y2="247.00" stroke="#222" stroke-width="0.8" />
<polygon points="223.30,242.30 223.44,242.52 223.64,242.82 223.87,243.18 224.11,243.59 224.33,244.03 224.50,244.50 224.62,245.01 224.70,245.59 224.76,246.20 224.82,246.82 224.90,247.43 225.00,248.00 225.13,248.53 225.26,249.04 225.41,249.53 225.57,250.02 225.77,250.51 226.00,251.00 226.26,251.50 226.54,251.99 226.84,252.48 227.19,252.98 227.57,253.48 228.00,254.00 228.58,254.55 229.33,255.12 230.12,255.70 230.83,256.27 231.33,256.81 231.50,257.30 231.24,257.73 230.65,258.12 229.84,258.48 228.96,258.82 228.14,259.16 227.50,259.50 227.04,259.84 226.65,260.16 226.31,260.48 226.02,260.80 225.75,261.14 225.50,261.50 225.27,261.87 225.07,262.24 224.91,262.62 224.76,263.04 224.63,263.49 224.50,264.00 224.39,264.57 224.29,265.19 224.21,265.84 224.14,266.54 224.07,267.26 224.00,268.00 223.93,268.79 223.86,269.65 223.79,270.53 223.72,271.41 223.66,272.24 223.60,273.00 223.54,273.71 223.48,274.41 223.43,275.06 223.37,275.65 223.33,276.14 223.30,276.50 222.70,276.50 222.67,276.14 222.63,275.65 222.57,275.06 222.52,274.41 222.46,273.71 222.40,273.00 222.34,272.24 222.28,271.41 222.21,270.53 222.14,269.65 222.07,268.79 222.00,268.00 221.93,267.26 221.86,266.54 221.79,265.84 221.71,265.19 221.61,264.57 221.50,264.00 221.37,263.49 221.24,263.04 221.09,262.62 220.93,262.24 220.73,261.87 220.50,261.50 220.25,261.14 219.98,260.80 219.69,260.48 219.35,260.16 218.96,259.84 218.50,259.50 217.86,259.16 217.04,258.82 216.16,258.48 215.35,258.12 214.76,257.73 214.50,257.30 214.67,256.81 215.17,256.27 215.88,255.70 216.67,255.12 217.42,254.55 218.00,254.00 218.43,253.48 218.81,252.98 219.16,252.48 219.46,251.99 219.74,251.50 220.00,251.00 220.23,250.51 220.43,250.02 220.59,249.53 220.74,249.04 220.87,248.53 221.00,248.00 221.10,247.43 221.18,246.82 221.24,246.20 221.30,245.59 221.38,245.01 221.50,244.50 221.67,244.03 221.89,243.59 222.13,243.18 222.36,242.82 222.56,242.52 222.70,242.30" fill="#F8766D"/>
<line x1="223.00" y1="245.00" x2="223.00" y2="271.00" stroke="#333" stroke-width="0.7" opacity="0.85"/>
<rect x="221.80" y="252.50" width="2.40" height="7.50" fill="#E4E4E4" stroke="#3A3A3A" stroke-width="0.6" />
<line x1="221.80" y1="256.50" x2="224.20" y2="256.50" stroke="#222" stroke-width="0.8" />
<circle cx="223.00" cy="244.50" r="1.3" fill="#000"/>
<circle cx="223.00" cy="246.50" r="1.3" fill="#000"/>
<circle cx="223.00" cy="271.80" r="1.3" fill="#000"/>
<polygon points="261.80,242.30 261.94,242.52 262.14,242.82 262.37,243.18 262.61,243.59 262.83,244.03 263.00,244.50 263.12,245.01 263.20,245.59 263.26,246.20 263.32,246.82 263.40,247.43 263.50,248.00 263.63,248.53 263.76,249.04 263.91,249.53 264.07,250.02 264.27,250.51 264.50,251.00 264.76,251.50 265.06,251.99 265.38,252.48 265.72,252.98 266.10,253.48 266.50,254.00 267.02,254.55 267.67,255.12 268.34,255.70 268.94,256.27 269.36,256.81 269.50,257.30 269.28,257.73 268.76,258.12 268.06,258.48 267.30,258.82 266.57,259.16 266.00,259.50 265.57,259.84 265.19,260.16 264.84,260.48 264.54,260.80 264.26,261.14 264.00,261.50 263.77,261.87 263.57,262.24 263.41,262.62 263.26,263.04 263.13,263.49 263.00,264.00 262.89,264.57 262.79,265.19 262.71,265.84 262.64,266.54 262.57,267.26 262.50,268.00 262.43,268.79 262.36,269.65 262.29,270.53 262.22,271.41 262.16,272.24 262.10,273.00 262.04,273.71 261.98,274.41 261.93,275.06 261.87,275.65 261.83,276.14 261.80,276.50 261.20,276.50 261.17,276.14 261.13,275.65 261.07,275.06 261.02,274.41 260.96,273.71 260.90,273.00 260.84,272.24 260.78,271.41 260.71,270.53 260.64,269.65 260.57,268.79 260.50,268.00 260.43,267.26 260.36,266.54 260.29,265.84 260.21,265.19 260.11,264.57 260.00,264.00 259.87,263.49 259.74,263.04 259.59,262.62 259.43,262.24 259.23,261.87 259.00,261.50 258.74,261.14 258.46,260.80 258.16,260.48 257.81,260.16 257.43,259.84 257.00,259.50 256.43,259.16 255.70,258.82 254.94,258.48 254.24,258.12 253.72,257.73 253.50,257.30 253.64,256.81 254.06,256.27 254.66,255.70 255.33,255.12 255.98,254.55 256.50,254.00 256.90,253.48 257.28,252.98 257.62,252.48 257.94,251.99 258.24,251.50 258.50,251.00 258.73,250.51 258.93,250.02 259.09,249.53 259.24,249.04 259.37,248.53 259.50,248.00 259.60,247.43 259.68,246.82 259.74,246.20 259.80,245.59 259.88,245.01 260.00,244.50 260.17,244.03 260.39,243.59 260.63,243.18 260.86,242.82 261.06,242.52 261.20,242.30" fill="#F8766D"/>
<line x1="261.50" y1="245.00" x2="261.50" y2="271.00" stroke="#333" stroke-width="0.7" opacity="0.85"/>
<rect x="260.30" y="252.50" width="2.40" height="7.50" fill="#E4E4E4" stroke="#3A3A3A" stroke-width="0.6" />
<line x1="260.30" y1="256.50" x2="262.70" y2="256.50" stroke="#222" stroke-width="0.8" />
<circle cx="261.50" cy="244.50" r="1.3" fill="#000"/>
<circle cx="261.50" cy="246.50" r="1.3" fill="#000"/>
<circle cx="261.50" cy="271.80" r="1.3" fill="#000"/>
<polygon points="240.60,204.20 240.72,204.83 240.89,205.70 241.09,206.72 241.29,207.84 241.47,208.95 241.60,210.00 241.68,210.95 241.74,211.87 241.78,212.80 241.79,213.77 241.80,214.82 241.80,216.00 241.77,217.33 241.69,218.78 241.61,220.31 241.54,221.89 241.53,223.47 241.60,225.00 241.76,226.52 241.97,228.07 242.23,229.61 242.55,231.13 242.90,232.60 243.30,234.00 243.83,235.32 244.53,236.59 245.27,237.80 245.93,238.97 246.40,240.10 246.55,241.20 246.30,242.22 245.72,243.16 244.94,244.05 244.11,244.96 243.35,245.92 242.80,247.00 242.47,248.22 242.24,249.54 242.09,250.93 241.99,252.33 241.90,253.70 241.80,255.00 241.70,256.24 241.64,257.44 241.59,258.62 241.54,259.78 241.48,260.90 241.40,262.00 241.28,263.13 241.13,264.30 240.98,265.44 240.82,266.48 240.69,267.36 240.60,268.00 240.00,268.00 239.91,267.36 239.78,266.48 239.62,265.44 239.47,264.30 239.32,263.13 239.20,262.00 239.12,260.90 239.06,259.78 239.01,258.62 238.96,257.44 238.90,256.24 238.80,255.00 238.70,253.70 238.61,252.33 238.51,250.93 238.36,249.54 238.13,248.22 237.80,247.00 237.25,245.92 236.49,244.96 235.66,244.05 234.88,243.16 234.30,242.22 234.05,241.20 234.20,240.10 234.67,238.97 235.33,237.80 236.07,236.59 236.77,235.32 237.30,234.00 237.70,232.60 238.05,231.13 238.37,229.61 238.63,228.07 238.84,226.52 239.00,225.00 239.07,223.47 239.06,221.89 238.99,220.31 238.91,218.78 238.83,217.33 238.80,216.00 238.80,214.82 238.81,213.77 238.83,212.80 238.86,211.87 238.92,210.95 239.00,210.00 239.13,208.95 239.31,207.84 239.51,206.72 239.71,205.70 239.88,204.83 240.00,204.20" fill="#00BFC4"/>
<line x1="240.30" y1="230.00" x2="240.30" y2="255.00" stroke="#333" stroke-width="0.7" opacity="0.85"/>
<rect x="239.10" y="238.30" width="2.40" height="6.70" fill="#E4E4E4" stroke="#3A3A3A" stroke-width="0.6" />
<line x1="239.10" y1="241.50" x2="241.50" y2="241.50" stroke="#222" stroke-width="0.8" />
<circle cx="240.30" cy="211.90" r="1.1" fill="#000"/>
<circle cx="240.30" cy="227.80" r="1.1" fill="#000"/>
<circle cx="240.30" cy="261.00" r="1.1" fill="#000"/>
<polygon points="278.60,198.20 278.67,200.05 278.77,202.62 278.89,205.66 279.02,208.91 279.16,212.11 279.30,215.00 279.45,217.63 279.60,220.20 279.77,222.73 279.94,225.21 280.12,227.63 280.30,230.00 280.52,232.31 280.78,234.55 281.05,236.74 281.29,238.89 281.47,241.01 281.55,243.10 281.51,245.17 281.37,247.23 281.18,249.24 280.95,251.22 280.73,253.14 280.55,255.00 280.42,256.78 280.30,258.49 280.19,260.14 280.07,261.76 279.95,263.37 279.80,265.00 279.61,266.75 279.39,268.61 279.15,270.48 278.93,272.20 278.74,273.65 278.60,274.70 278.00,274.70 277.86,273.65 277.67,272.20 277.45,270.48 277.21,268.61 276.99,266.75 276.80,265.00 276.65,263.37 276.53,261.76 276.41,260.14 276.30,258.49 276.18,256.78 276.05,255.00 275.87,253.14 275.65,251.22 275.43,249.24 275.23,247.23 275.09,245.17 275.05,243.10 275.13,241.01 275.31,238.89 275.55,236.74 275.82,234.55 276.08,232.31 276.30,230.00 276.48,227.63 276.66,225.21 276.83,222.73 277.00,220.20 277.15,217.63 277.30,215.00 277.44,212.11 277.58,208.91 277.71,205.66 277.83,202.62 277.93,200.05 278.00,198.20" fill="#00BFC4"/>
<line x1="278.30" y1="215.00" x2="278.30" y2="265.00" stroke="#333" stroke-width="0.7" opacity="0.85"/>
<rect x="277.10" y="240.60" width="2.40" height="12.10" fill="#E4E4E4" stroke="#3A3A3A" stroke-width="0.6" />
<line x1="277.10" y1="242.50" x2="279.50" y2="242.50" stroke="#222" stroke-width="0.8" />
<circle cx="278.30" cy="211.90" r="1.1" fill="#000"/>
<polygon points="309.60,200.00 309.65,201.63 309.72,203.89 309.80,206.56 309.89,209.44 309.98,212.33 310.05,215.00 310.12,217.50 310.18,220.00 310.24,222.50 310.30,225.00 310.35,227.50 310.40,230.00 310.44,232.50 310.48,235.00 310.51,237.50 310.54,240.00 310.55,242.50 310.55,245.00 310.54,247.48 310.51,249.93 310.48,252.38 310.43,254.85 310.37,257.38 310.30,260.00 310.20,262.91 310.07,266.15 309.93,269.44 309.80,272.52 309.68,275.13 309.60,277.00 309.00,277.00 308.92,275.13 308.80,272.52 308.67,269.44 308.53,266.15 308.40,262.91 308.30,260.00 308.23,257.38 308.17,254.85 308.12,252.38 308.09,249.93 308.06,247.48 308.05,245.00 308.05,242.50 308.06,240.00 308.09,237.50 308.12,235.00 308.16,232.50 308.20,230.00 308.25,227.50 308.30,225.00 308.36,222.50 308.42,220.00 308.48,217.50 308.55,215.00 308.62,212.33 308.71,209.44 308.80,206.56 308.88,203.89 308.95,201.63 309.00,200.00" fill="#F8766D"/>
<line x1="309.30" y1="219.00" x2="309.30" y2="264.00" stroke="#333" stroke-width="0.7" opacity="0.85"/>
<rect x="307.70" y="227.80" width="3.20" height="21.10" fill="#E4E4E4" stroke="#3A3A3A" stroke-width="0.6" />
<line x1="307.70" y1="240.20" x2="310.90" y2="240.20" stroke="#222" stroke-width="0.8" />
<polygon points="327.10,194.50 327.21,195.68 327.38,197.35 327.57,199.31 327.77,201.37 327.94,203.33 328.05,205.00 328.10,206.30 328.12,207.37 328.11,208.34 328.09,209.35 328.06,210.53 328.05,212.00 328.04,213.85 328.02,216.00 328.00,218.31 327.99,220.67 328.01,222.94 328.05,225.00 328.13,226.90 328.25,228.74 328.39,230.50 328.54,232.15 328.68,233.66 328.80,235.00 328.91,236.06 329.03,236.85 329.14,237.50 329.24,238.15 329.29,238.94 329.30,240.00 329.24,241.35 329.13,242.89 328.99,244.56 328.83,246.33 328.68,248.16 328.55,250.00 328.46,251.90 328.38,253.90 328.31,255.95 328.24,258.01 328.16,260.05 328.05,262.00 327.91,263.99 327.73,266.09 327.54,268.15 327.36,270.04 327.21,271.64 327.10,272.80 326.50,272.80 326.39,271.64 326.24,270.04 326.06,268.15 325.87,266.09 325.69,263.99 325.55,262.00 325.44,260.05 325.36,258.01 325.29,255.95 325.22,253.90 325.14,251.90 325.05,250.00 324.93,248.16 324.77,246.33 324.61,244.56 324.47,242.89 324.36,241.35 324.30,240.00 324.31,238.94 324.36,238.15 324.46,237.50 324.57,236.85 324.69,236.06 324.80,235.00 324.92,233.66 325.06,232.15 325.21,230.50 325.35,228.74 325.47,226.90 325.55,225.00 325.59,222.94 325.61,220.67 325.60,218.31 325.58,216.00 325.56,213.85 325.55,212.00 325.54,210.53 325.51,209.35 325.49,208.34 325.48,207.37 325.50,206.30 325.55,205.00 325.66,203.33 325.83,201.37 326.03,199.31 326.22,197.35 326.39,195.68 326.50,194.50" fill="#00BFC4"/>
<line x1="326.80" y1="225.00" x2="326.80" y2="265.00" stroke="#333" stroke-width="0.7" opacity="0.85"/>
<rect x="325.50" y="240.20" width="2.60" height="12.50" fill="#E4E4E4" stroke="#3A3A3A" stroke-width="0.6" />
<line x1="325.50" y1="241.00" x2="328.10" y2="241.00" stroke="#222" stroke-width="0.8" />
<circle cx="326.80" cy="207.80" r="1.3" fill="#000"/>
<circle cx="326.80" cy="209.40" r="1.3" fill="#000"/>
<polygon points="348.10,234.50 348.23,235.08 348.40,235.87 348.61,236.82 348.83,237.86 349.07,238.94 349.30,240.00 349.56,241.06 349.88,242.15 350.20,243.29 350.49,244.46 350.71,245.66 350.80,246.90 350.75,248.16 350.58,249.44 350.33,250.76 350.05,252.11 349.77,253.53 349.55,255.00 349.37,256.54 349.19,258.13 349.03,259.78 348.87,261.48 348.73,263.22 348.60,265.00 348.48,266.98 348.38,269.18 348.29,271.43 348.21,273.53 348.15,275.32 348.10,276.60 347.50,276.60 347.45,275.32 347.39,273.53 347.31,271.43 347.22,269.18 347.12,266.98 347.00,265.00 346.87,263.22 346.73,261.48 346.57,259.78 346.41,258.13 346.23,256.54 346.05,255.00 345.83,253.53 345.55,252.11 345.27,250.76 345.02,249.44 344.85,248.16 344.80,246.90 344.89,245.66 345.11,244.46 345.40,243.29 345.72,242.15 346.04,241.06 346.30,240.00 346.53,238.94 346.77,237.86 346.99,236.82 347.20,235.87 347.37,235.08 347.50,234.50" fill="#F8766D"/>
<line x1="347.80" y1="240.00" x2="347.80" y2="270.00" stroke="#333" stroke-width="0.7" opacity="0.85"/>
<rect x="346.50" y="248.90" width="2.60" height="8.60" fill="#E4E4E4" stroke="#3A3A3A" stroke-width="0.6" />
<line x1="346.50" y1="250.00" x2="349.10" y2="250.00" stroke="#222" stroke-width="0.8" />
<polygon points="365.10,190.90 365.16,190.62 365.24,189.74 365.34,188.95 365.44,188.93 365.53,190.39 365.60,194.00 365.65,200.64 365.70,209.93 365.74,220.69 365.77,231.74 365.79,241.91 365.80,250.00 365.80,256.09 365.78,261.15 365.76,265.31 365.72,268.74 365.69,271.59 365.65,274.00 365.61,275.75 365.55,276.67 365.49,277.00 365.43,277.00 365.38,276.92 365.35,277.00 363.85,277.00 363.82,276.92 363.77,277.00 363.71,277.00 363.65,276.67 363.59,275.75 363.55,274.00 363.51,271.59 363.48,268.74 363.44,265.31 363.42,261.15 363.40,256.09 363.40,250.00 363.41,241.91 363.43,231.74 363.46,220.69 363.50,209.93 363.55,200.64 363.60,194.00 363.67,190.39 363.76,188.93 363.86,188.95 363.96,189.74 364.04,190.62 364.10,190.90" fill="#00BFC4"/>
<line x1="364.60" y1="207.70" x2="364.60" y2="268.00" stroke="#333" stroke-width="0.7" opacity="0.85"/>
<rect x="363.10" y="227.90" width="3.00" height="15.90" fill="#E4E4E4" stroke="#3A3A3A" stroke-width="0.6" />
<line x1="363.10" y1="241.20" x2="366.10" y2="241.20" stroke="#222" stroke-width="0.8" />
<polygon points="387.10,244.60 387.41,244.69 387.81,244.80 388.30,244.94 388.86,245.10 389.46,245.29 390.10,245.50 390.88,245.74 391.85,246.02 392.86,246.32 393.80,246.64 394.52,246.97 394.90,247.30 394.90,247.64 394.61,247.98 394.11,248.34 393.48,248.71 392.78,249.09 392.10,249.50 391.34,249.85 390.42,250.13 389.44,250.43 388.50,250.83 387.68,251.43 387.10,252.30 386.79,253.61 386.67,255.31 386.69,257.20 386.77,259.08 386.85,260.75 386.85,262.00 386.78,262.80 386.70,263.31 386.61,263.61 386.52,263.77 386.45,263.87 386.40,264.00 385.80,264.00 385.75,263.87 385.68,263.77 385.59,263.61 385.50,263.31 385.42,262.80 385.35,262.00 385.35,260.75 385.43,259.08 385.51,257.20 385.53,255.31 385.41,253.61 385.10,252.30 384.52,251.43 383.70,250.83 382.76,250.43 381.78,250.13 380.86,249.85 380.10,249.50 379.42,249.09 378.72,248.71 378.09,248.34 377.59,247.98 377.30,247.64 377.30,247.30 377.68,246.97 378.40,246.64 379.34,246.32 380.35,246.02 381.32,245.74 382.10,245.50 382.74,245.29 383.34,245.10 383.90,244.94 384.39,244.80 384.79,244.69 385.10,244.60" fill="#F8766D"/>
<line x1="386.10" y1="249.40" x2="386.10" y2="264.00" stroke="#333" stroke-width="0.7" opacity="0.85"/>
<circle cx="386.10" cy="264.20" r="1.2" fill="#000"/>
<circle cx="386.1" cy="249.4" r="1.2" fill="#D8D8D8" stroke="#333" stroke-width="0.6"/>
<polygon points="403.30,187.80 403.36,187.50 403.44,186.56 403.54,185.71 403.64,185.68 403.73,187.20 403.80,191.00 403.85,198.01 403.90,207.83 403.94,219.20 403.97,230.86 403.99,241.55 404.00,250.00 404.00,256.27 403.98,261.37 403.96,265.50 403.92,268.85 403.89,271.62 403.85,274.00 403.81,275.75 403.75,276.67 403.69,277.00 403.63,277.00 403.58,276.92 403.55,277.00 402.05,277.00 402.02,276.92 401.97,277.00 401.91,277.00 401.85,276.67 401.79,275.75 401.75,274.00 401.71,271.62 401.68,268.85 401.64,265.50 401.62,261.37 401.60,256.27 401.60,250.00 401.61,241.55 401.63,230.86 401.66,219.20 401.70,207.83 401.75,198.01 401.80,191.00 401.87,187.20 401.96,185.68 402.06,185.71 402.16,186.56 402.24,187.50 402.30,187.80" fill="#00BFC4"/>
<line x1="402.80" y1="207.00" x2="402.80" y2="268.00" stroke="#333" stroke-width="0.7" opacity="0.85"/>
<rect x="401.30" y="228.90" width="3.00" height="21.30" fill="#E4E4E4" stroke="#3A3A3A" stroke-width="0.6" />
<line x1="401.30" y1="241.70" x2="404.30" y2="241.70" stroke="#222" stroke-width="0.8" />
<polygon points="434.60,189.10 434.65,190.24 434.72,191.77 434.80,193.61 434.89,195.66 434.98,197.82 435.05,200.00 435.11,202.17 435.18,204.40 435.23,206.74 435.29,209.26 435.35,211.99 435.40,215.00 435.44,218.54 435.47,222.63 435.50,226.94 435.54,231.15 435.60,234.94 435.70,238.00 435.83,240.22 435.99,241.85 436.18,243.06 436.37,244.04 436.58,244.96 436.80,246.00 437.03,247.11 437.29,248.13 437.56,249.10 437.82,250.04 438.07,251.00 438.30,252.00 438.52,253.04 438.76,254.10 438.99,255.16 439.17,256.24 439.28,257.32 439.30,258.40 439.20,259.50 439.00,260.61 438.74,261.72 438.43,262.84 438.11,263.93 437.80,265.00 437.49,266.03 437.14,267.04 436.78,268.04 436.43,269.02 436.09,270.01 435.80,271.00 435.54,272.07 435.30,273.22 435.07,274.38 434.88,275.44 434.72,276.35 434.60,277.00 434.00,277.00 433.88,276.35 433.72,275.44 433.53,274.38 433.30,273.22 433.06,272.07 432.80,271.00 432.51,270.01 432.17,269.02 431.82,268.04 431.46,267.04 431.11,266.03 430.80,265.00 430.49,263.93 430.17,262.84 429.86,261.72 429.60,260.61 429.40,259.50 429.30,258.40 429.32,257.32 429.43,256.24 429.61,255.16 429.84,254.10 430.08,253.04 430.30,252.00 430.53,251.00 430.78,250.04 431.04,249.10 431.31,248.13 431.57,247.11 431.80,246.00 432.02,244.96 432.23,244.04 432.43,243.06 432.61,241.85 432.77,240.22 432.90,238.00 433.00,234.94 433.06,231.15 433.10,226.94 433.13,222.63 433.16,218.54 433.20,215.00 433.25,211.99 433.31,209.26 433.37,206.74 433.42,204.40 433.49,202.17 433.55,200.00 433.62,197.82 433.71,195.66 433.80,193.61 433.88,191.77 433.95,190.24 434.00,189.10" fill="#F8766D"/>
<line x1="434.30" y1="205.00" x2="434.30" y2="272.00" stroke="#333" stroke-width="0.7" opacity="0.85"/>
<rect x="433.00" y="239.00" width="2.60" height="23.00" fill="#E4E4E4" stroke="#3A3A3A" stroke-width="0.6" />
<line x1="433.00" y1="256.00" x2="435.60" y2="256.00" stroke="#222" stroke-width="0.8" />
<circle cx="434.30" cy="205.70" r="1.1" fill="#000"/>
<circle cx="434.30" cy="213.00" r="1.1" fill="#000"/>
<circle cx="434.30" cy="216.30" r="1.1" fill="#000"/>
<polygon points="451.50,191.70 451.63,192.05 451.80,192.53 452.01,193.10 452.23,193.73 452.47,194.37 452.70,195.00 452.94,195.64 453.20,196.32 453.46,197.02 453.73,197.71 453.98,198.38 454.20,199.00 454.42,199.55 454.64,200.04 454.86,200.50 455.03,200.96 455.15,201.45 455.20,202.00 455.15,202.61 455.03,203.26 454.86,203.94 454.64,204.63 454.42,205.32 454.20,206.00 453.97,206.68 453.70,207.37 453.42,208.06 453.14,208.74 452.90,209.39 452.70,210.00 452.55,210.40 452.44,210.56 452.36,210.69 452.29,211.00 452.24,211.70 452.20,213.00 452.16,215.19 452.13,218.15 452.11,221.50 452.11,224.85 452.14,227.81 452.20,230.00 452.29,231.31 452.40,232.04 452.54,232.38 452.72,232.52 452.93,232.66 453.20,233.00 453.52,233.50 453.90,234.01 454.32,234.51 454.77,235.01 455.24,235.51 455.70,236.00 456.22,236.48 456.83,236.95 457.45,237.42 458.01,237.88 458.45,238.34 458.70,238.80 458.72,239.25 458.57,239.70 458.29,240.14 457.94,240.58 457.56,241.03 457.20,241.50 456.83,241.98 456.39,242.46 455.93,242.95 455.48,243.45 455.06,243.97 454.70,244.50 454.41,245.01 454.16,245.50 453.95,246.00 453.76,246.56 453.60,247.21 453.45,248.00 453.32,248.96 453.23,250.07 453.15,251.28 453.09,252.54 453.02,253.79 452.95,255.00 452.87,256.16 452.80,257.31 452.73,258.47 452.65,259.63 452.56,260.80 452.45,262.00 452.31,263.31 452.13,264.74 451.94,266.19 451.76,267.54 451.61,268.68 451.50,269.50 450.90,269.50 450.79,268.68 450.64,267.54 450.46,266.19 450.27,264.74 450.09,263.31 449.95,262.00 449.84,260.80 449.75,259.63 449.67,258.47 449.60,257.31 449.53,256.16 449.45,255.00 449.38,253.79 449.31,252.54 449.25,251.28 449.17,250.07 449.08,248.96 448.95,248.00 448.80,247.21 448.64,246.56 448.45,246.00 448.24,245.50 447.99,245.01 447.70,244.50 447.34,243.97 446.92,243.45 446.47,242.95 446.01,242.46 445.57,241.98 445.20,241.50 444.84,241.03 444.46,240.58 444.11,240.14 443.83,239.70 443.68,239.25 443.70,238.80 443.95,238.34 444.39,237.88 444.95,237.42 445.57,236.95 446.18,236.48 446.70,236.00 447.16,235.51 447.63,235.01 448.07,234.51 448.50,234.01 448.88,233.50 449.20,233.00 449.47,232.66 449.68,232.52 449.86,232.38 450.00,232.04 450.11,231.31 450.20,230.00 450.26,227.81 450.29,224.85 450.29,221.50 450.27,218.15 450.24,215.19 450.20,213.00 450.16,211.70 450.11,211.00 450.04,210.69 449.96,210.56 449.85,210.40 449.70,210.00 449.50,209.39 449.26,208.74 448.98,208.06 448.70,207.37 448.43,206.68 448.20,206.00 447.98,205.32 447.76,204.63 447.54,203.94 447.37,203.26 447.25,202.61 447.20,202.00 447.25,201.45 447.37,200.96 447.54,200.50 447.76,200.04 447.98,199.55 448.20,199.00 448.42,198.38 448.67,197.71 448.94,197.02 449.20,196.32 449.46,195.64 449.70,195.00 449.93,194.37 450.17,193.73 450.39,193.10 450.60,192.53 450.77,192.05 450.90,191.70" fill="#00BFC4"/>
<line x1="451.20" y1="228.00" x2="451.20" y2="262.00" stroke="#333" stroke-width="0.7" opacity="0.85"/>
<rect x="450.10" y="236.30" width="2.20" height="13.20" fill="#E4E4E4" stroke="#3A3A3A" stroke-width="0.6" />
<circle cx="451.20" cy="202.00" r="1.2" fill="#000"/>
<circle cx="451.20" cy="207.50" r="1.2" fill="#000"/>
<polygon points="472.80,242.10 472.97,242.63 473.19,243.37 473.46,244.24 473.77,245.18 474.12,246.12 474.50,247.00 474.93,247.84 475.42,248.70 475.95,249.56 476.49,250.40 477.01,251.22 477.50,252.00 477.96,252.72 478.43,253.40 478.88,254.04 479.30,254.68 479.68,255.33 480.00,256.00 480.29,256.71 480.56,257.43 480.78,258.17 480.94,258.90 481.02,259.61 481.00,260.30 480.85,260.95 480.59,261.57 480.25,262.17 479.85,262.77 479.43,263.37 479.00,264.00 478.55,264.65 478.04,265.31 477.50,265.98 476.96,266.66 476.45,267.33 476.00,268.00 475.60,268.66 475.23,269.30 474.89,269.94 474.57,270.59 474.28,271.28 474.00,272.00 473.74,272.83 473.50,273.78 473.27,274.75 473.08,275.67 472.92,276.44 472.80,277.00 472.20,277.00 472.08,276.44 471.92,275.67 471.73,274.75 471.50,273.78 471.26,272.83 471.00,272.00 470.72,271.28 470.43,270.59 470.11,269.94 469.77,269.30 469.40,268.66 469.00,268.00 468.55,267.33 468.04,266.66 467.50,265.98 466.96,265.31 466.45,264.65 466.00,264.00 465.57,263.37 465.15,262.77 464.75,262.17 464.41,261.57 464.15,260.95 464.00,260.30 463.98,259.61 464.06,258.90 464.22,258.17 464.44,257.43 464.71,256.71 465.00,256.00 465.32,255.33 465.70,254.68 466.12,254.04 466.57,253.40 467.04,252.72 467.50,252.00 467.99,251.22 468.51,250.40 469.05,249.56 469.58,248.70 470.07,247.84 470.50,247.00 470.88,246.12 471.23,245.18 471.54,244.24 471.81,243.37 472.03,242.63 472.20,242.10" fill="#F8766D"/>
<line x1="472.50" y1="250.00" x2="472.50" y2="272.00" stroke="#333" stroke-width="0.7" opacity="0.85"/>
<rect x="471.10" y="256.50" width="2.80" height="8.60" fill="#E4E4E4" stroke="#3A3A3A" stroke-width="0.6" />
<line x1="471.10" y1="261.00" x2="473.90" y2="261.00" stroke="#222" stroke-width="0.8" />
<polygon points="489.80,177.20 489.84,178.57 489.90,180.44 489.97,182.66 490.05,185.10 490.15,187.59 490.25,190.00 490.37,192.37 490.51,194.84 490.66,197.36 490.82,199.92 490.97,202.47 491.10,205.00 491.22,207.50 491.33,210.00 491.44,212.50 491.54,215.00 491.64,217.50 491.75,220.00 491.86,222.55 491.97,225.15 492.09,227.75 492.20,230.30 492.30,232.73 492.40,235.00 492.50,237.08 492.62,239.00 492.73,240.81 492.82,242.56 492.87,244.27 492.85,246.00 492.75,247.74 492.59,249.44 492.39,251.12 492.16,252.78 491.94,254.40 491.75,256.00 491.58,257.53 491.42,258.98 491.27,260.40 491.11,261.84 490.96,263.36 490.80,265.00 490.62,266.92 490.43,269.10 490.24,271.36 490.06,273.50 489.91,275.31 489.80,276.60 489.20,276.60 489.09,275.31 488.94,273.50 488.76,271.36 488.57,269.10 488.38,266.92 488.20,265.00 488.04,263.36 487.89,261.84 487.73,260.40 487.58,258.98 487.42,257.53 487.25,256.00 487.06,254.40 486.84,252.78 486.61,251.12 486.41,249.44 486.25,247.74 486.15,246.00 486.13,244.27 486.18,242.56 486.27,240.81 486.38,239.00 486.50,237.08 486.60,235.00 486.70,232.73 486.80,230.30 486.91,227.75 487.03,225.15 487.14,222.55 487.25,220.00 487.36,217.50 487.46,215.00 487.56,212.50 487.67,210.00 487.78,207.50 487.90,205.00 488.03,202.47 488.18,199.92 488.34,197.36 488.49,194.84 488.63,192.37 488.75,190.00 488.85,187.59 488.95,185.10 489.03,182.66 489.10,180.44 489.16,178.57 489.20,177.20" fill="#00BFC4"/>
<line x1="489.50" y1="195.00" x2="489.50" y2="270.00" stroke="#333" stroke-width="0.7" opacity="0.85"/>
<rect x="488.10" y="216.30" width="2.80" height="28.10" fill="#E4E4E4" stroke="#3A3A3A" stroke-width="0.6" />
<line x1="488.10" y1="241.20" x2="490.90" y2="241.20" stroke="#222" stroke-width="0.8" />
<polygon points="510.70,238.30 510.85,238.92 511.04,239.77 511.27,240.78 511.54,241.87 511.83,242.97 512.15,244.00 512.51,245.00 512.92,246.03 513.37,247.07 513.81,248.10 514.25,249.08 514.65,250.00 515.03,250.84 515.40,251.63 515.76,252.38 516.09,253.10 516.39,253.80 516.65,254.50 516.87,255.19 517.06,255.86 517.21,256.51 517.33,257.14 517.39,257.77 517.40,258.40 517.35,259.00 517.26,259.57 517.12,260.13 516.93,260.71 516.69,261.32 516.40,262.00 516.03,262.75 515.58,263.56 515.07,264.41 514.56,265.28 514.07,266.15 513.65,267.00 513.29,267.83 512.97,268.67 512.68,269.50 512.41,270.33 512.15,271.17 511.90,272.00 511.65,272.89 511.41,273.85 511.19,274.81 510.99,275.70 510.82,276.46 510.70,277.00 510.10,277.00 509.98,276.46 509.81,275.70 509.61,274.81 509.39,273.85 509.15,272.89 508.90,272.00 508.65,271.17 508.39,270.33 508.12,269.50 507.83,268.67 507.51,267.83 507.15,267.00 506.73,266.15 506.24,265.28 505.73,264.41 505.22,263.56 504.77,262.75 504.40,262.00 504.11,261.32 503.87,260.71 503.68,260.13 503.54,259.57 503.45,259.00 503.40,258.40 503.41,257.77 503.47,257.14 503.59,256.51 503.74,255.86 503.93,255.19 504.15,254.50 504.41,253.80 504.71,253.10 505.04,252.38 505.40,251.63 505.77,250.84 506.15,250.00 506.55,249.08 506.99,248.10 507.43,247.07 507.88,246.03 508.29,245.00 508.65,244.00 508.97,242.97 509.26,241.87 509.53,240.78 509.76,239.77 509.95,238.92 510.10,238.30" fill="#F8766D"/>
<line x1="510.40" y1="248.00" x2="510.40" y2="272.00" stroke="#333" stroke-width="0.7" opacity="0.85"/>
<rect x="509.00" y="253.60" width="2.80" height="10.60" fill="#E4E4E4" stroke="#3A3A3A" stroke-width="0.6" />
<line x1="509.00" y1="258.50" x2="511.80" y2="258.50" stroke="#222" stroke-width="0.8" />
<polygon points="527.70,177.20 527.74,178.57 527.80,180.44 527.87,182.66 527.95,185.10 528.05,187.59 528.15,190.00 528.27,192.37 528.41,194.84 528.56,197.36 528.71,199.92 528.86,202.47 529.00,205.00 529.13,207.46 529.24,209.88 529.36,212.29 529.47,214.76 529.59,217.31 529.70,220.00 529.83,222.91 529.98,226.03 530.13,229.23 530.26,232.42 530.36,235.48 530.40,238.30 530.38,240.86 530.31,243.23 530.20,245.48 530.07,247.66 529.93,249.81 529.80,252.00 529.67,254.22 529.53,256.42 529.38,258.61 529.23,260.77 529.07,262.90 528.90,265.00 528.72,267.20 528.51,269.52 528.29,271.81 528.09,273.93 527.92,275.71 527.80,277.00 527.00,277.00 526.88,275.71 526.71,273.93 526.51,271.81 526.29,269.52 526.08,267.20 525.90,265.00 525.73,262.90 525.57,260.77 525.42,258.61 525.27,256.42 525.13,254.22 525.00,252.00 524.87,249.81 524.73,247.66 524.60,245.48 524.49,243.23 524.42,240.86 524.40,238.30 524.44,235.48 524.54,232.42 524.67,229.23 524.82,226.03 524.97,222.91 525.10,220.00 525.21,217.31 525.33,214.76 525.44,212.29 525.56,209.88 525.67,207.46 525.80,205.00 525.94,202.47 526.09,199.92 526.24,197.36 526.39,194.84 526.53,192.37 526.65,190.00 526.75,187.59 526.85,185.10 526.93,182.66 527.00,180.44 527.06,178.57 527.10,177.20" fill="#00BFC4"/>
<line x1="527.40" y1="195.00" x2="527.40" y2="275.00" stroke="#333" stroke-width="0.7" opacity="0.85"/>
<rect x="526.00" y="218.20" width="2.80" height="39.30" fill="#E4E4E4" stroke="#3A3A3A" stroke-width="0.6" />
<line x1="526.00" y1="244.00" x2="528.80" y2="244.00" stroke="#222" stroke-width="0.8" />
<polygon points="69.20,345.10 69.27,345.84 69.37,346.85 69.49,348.05 69.62,349.36 69.76,350.71 69.90,352.00 70.05,353.28 70.20,354.62 70.37,355.99 70.54,357.37 70.72,358.71 70.90,360.00 71.10,361.24 71.32,362.47 71.55,363.67 71.77,364.83 71.98,365.94 72.15,367.00 72.30,367.95 72.43,368.80 72.55,369.61 72.64,370.42 72.71,371.30 72.75,372.30 72.75,373.44 72.71,374.68 72.64,375.98 72.56,377.32 72.48,378.67 72.40,380.00 72.34,381.33 72.28,382.68 72.22,384.04 72.15,385.40 72.04,386.72 71.90,388.00 71.70,389.25 71.46,390.48 71.19,391.69 70.91,392.85 70.64,393.96 70.40,395.00 70.17,396.01 69.93,397.00 69.71,397.94 69.50,398.78 69.33,399.48 69.20,400.00 68.60,400.00 68.47,399.48 68.30,398.78 68.09,397.94 67.87,397.00 67.63,396.01 67.40,395.00 67.16,393.96 66.89,392.85 66.61,391.69 66.34,390.48 66.10,389.25 65.90,388.00 65.76,386.72 65.65,385.40 65.58,384.04 65.52,382.68 65.46,381.33 65.40,380.00 65.32,378.67 65.24,377.32 65.16,375.98 65.09,374.68 65.05,373.44 65.05,372.30 65.09,371.30 65.16,370.42 65.25,369.61 65.37,368.80 65.50,367.95 65.65,367.00 65.82,365.94 66.03,364.83 66.25,363.67 66.48,362.47 66.70,361.24 66.90,360.00 67.08,358.71 67.26,357.37 67.43,355.99 67.60,354.62 67.75,353.28 67.90,352.00 68.04,350.71 68.18,349.36 68.31,348.05 68.43,346.85 68.53,345.84 68.60,345.10" fill="#F8766D"/>
<line x1="68.90" y1="360.00" x2="68.90" y2="396.00" stroke="#333" stroke-width="0.7" opacity="0.85"/>
<rect x="67.10" y="370.60" width="3.60" height="18.70" fill="#FAFAFA" stroke="#3A3A3A" stroke-width="0.6" />
<line x1="67.10" y1="373.70" x2="70.70" y2="373.70" stroke="#222" stroke-width="0.8" />
<polygon points="98.80,383.30 98.98,383.48 99.21,383.73 99.49,384.03 99.81,384.35 100.15,384.68 100.50,385.00 100.87,385.30 101.28,385.61 101.71,385.92 102.15,386.25 102.59,386.61 103.00,387.00 103.44,387.44 103.91,387.93 104.39,388.44 104.81,388.96 105.13,389.49 105.30,390.00 105.31,390.50 105.20,391.00 104.98,391.50 104.69,392.00 104.36,392.50 104.00,393.00 103.59,393.51 103.10,394.02 102.56,394.53 102.00,395.04 101.47,395.53 101.00,396.00 100.56,396.47 100.13,396.96 99.71,397.44 99.34,397.87 99.03,398.23 98.80,398.50 98.20,398.50 97.97,398.23 97.66,397.87 97.29,397.44 96.87,396.96 96.44,396.47 96.00,396.00 95.53,395.53 95.00,395.04 94.44,394.53 93.90,394.02 93.41,393.51 93.00,393.00 92.64,392.50 92.31,392.00 92.02,391.50 91.80,391.00 91.69,390.50 91.70,390.00 91.87,389.49 92.19,388.96 92.61,388.44 93.09,387.93 93.56,387.44 94.00,387.00 94.41,386.61 94.85,386.25 95.29,385.92 95.72,385.61 96.13,385.30 96.50,385.00 96.85,384.68 97.19,384.35 97.51,384.03 97.79,383.73 98.02,383.48 98.20,383.30" fill="#F8766D"/>
<line x1="98.50" y1="384.00" x2="98.50" y2="397.00" stroke="#333" stroke-width="0.7" opacity="0.85"/>
<rect x="97.60" y="387.50" width="1.80" height="4.50" fill="#E4E4E4" stroke="#3A3A3A" stroke-width="0.6" />
<line x1="97.60" y1="389.80" x2="99.40" y2="389.80" stroke="#222" stroke-width="0.8" />
<polygon points="137.00,383.30 137.18,383.48 137.41,383.73 137.69,384.03 138.01,384.35 138.35,384.68 138.70,385.00 139.07,385.30 139.48,385.61 139.91,385.92 140.35,386.25 140.79,386.61 141.20,387.00 141.64,387.44 142.11,387.93 142.59,388.44 143.01,388.96 143.33,389.49 143.50,390.00 143.51,390.50 143.40,391.00 143.18,391.50 142.89,392.00 142.56,392.50 142.20,393.00 141.79,393.51 141.30,394.02 140.76,394.53 140.20,395.04 139.67,395.53 139.20,396.00 138.76,396.47 138.33,396.96 137.91,397.44 137.54,397.87 137.23,398.23 137.00,398.50 136.40,398.50 136.17,398.23 135.86,397.87 135.49,397.44 135.07,396.96 134.64,396.47 134.20,396.00 133.73,395.53 133.20,395.04 132.64,394.53 132.10,394.02 131.61,393.51 131.20,393.00 130.84,392.50 130.51,392.00 130.22,391.50 130.00,391.00 129.89,390.50 129.90,390.00 130.07,389.49 130.39,388.96 130.81,388.44 131.29,387.93 131.76,387.44 132.20,387.00 132.61,386.61 133.05,386.25 133.49,385.92 133.92,385.61 134.33,385.30 134.70,385.00 135.05,384.68 135.39,384.35 135.71,384.03 135.99,383.73 136.22,383.48 136.40,383.30" fill="#F8766D"/>
<line x1="136.70" y1="384.00" x2="136.70" y2="397.00" stroke="#333" stroke-width="0.7" opacity="0.85"/>
<rect x="135.80" y="387.50" width="1.80" height="4.50" fill="#E4E4E4" stroke="#3A3A3A" stroke-width="0.6" />
<line x1="135.80" y1="389.80" x2="137.60" y2="389.80" stroke="#222" stroke-width="0.8" />
<polygon points="116.20,361.80 116.38,361.91 116.64,362.04 116.94,362.21 117.25,362.42 117.55,362.68 117.80,363.00 118.00,363.41 118.16,363.90 118.31,364.45 118.45,365.01 118.61,365.54 118.80,366.00 118.99,366.39 119.16,366.72 119.34,367.03 119.57,367.33 119.88,367.65 120.30,368.00 120.94,368.39 121.79,368.80 122.72,369.22 123.59,369.65 124.26,370.08 124.60,370.50 124.56,370.91 124.24,371.31 123.72,371.72 123.09,372.13 122.42,372.55 121.80,373.00 121.18,373.48 120.47,374.01 119.73,374.54 119.01,375.07 118.35,375.56 117.80,376.00 117.36,376.39 117.00,376.76 116.70,377.09 116.46,377.38 116.26,377.62 116.10,377.80 115.50,377.80 115.34,377.62 115.14,377.38 114.90,377.09 114.60,376.76 114.24,376.39 113.80,376.00 113.25,375.56 112.59,375.07 111.87,374.54 111.13,374.01 110.42,373.48 109.80,373.00 109.18,372.55 108.51,372.13 107.88,371.72 107.36,371.31 107.04,370.91 107.00,370.50 107.34,370.08 108.01,369.65 108.88,369.22 109.81,368.80 110.66,368.39 111.30,368.00 111.72,367.65 112.03,367.33 112.26,367.03 112.44,366.72 112.61,366.39 112.80,366.00 112.99,365.54 113.15,365.01 113.29,364.45 113.44,363.90 113.60,363.41 113.80,363.00 114.05,362.68 114.35,362.42 114.66,362.21 114.96,362.04 115.22,361.91 115.40,361.80" fill="#00BFC4"/>
<line x1="115.80" y1="363.00" x2="115.80" y2="376.00" stroke="#333" stroke-width="0.7" opacity="0.85"/>
<rect x="114.90" y="368.00" width="1.80" height="4.50" fill="#E4E4E4" stroke="#3A3A3A" stroke-width="0.6" />
<line x1="114.90" y1="370.30" x2="116.70" y2="370.30" stroke="#222" stroke-width="0.8" />
<polygon points="154.00,361.80 154.18,361.91 154.44,362.04 154.74,362.21 155.05,362.42 155.35,362.68 155.60,363.00 155.80,363.41 155.96,363.90 156.11,364.45 156.25,365.01 156.41,365.54 156.60,366.00 156.79,366.39 156.96,366.72 157.14,367.03 157.37,367.33 157.68,367.65 158.10,368.00 158.74,368.39 159.59,368.80 160.52,369.22 161.39,369.65 162.06,370.08 162.40,370.50 162.36,370.91 162.04,371.31 161.52,371.72 160.89,372.13 160.22,372.55 159.60,373.00 158.98,373.48 158.27,374.01 157.53,374.54 156.81,375.07 156.15,375.56 155.60,376.00 155.16,376.39 154.80,376.76 154.50,377.09 154.26,377.38 154.06,377.62 153.90,377.80 153.30,377.80 153.14,377.62 152.94,377.38 152.70,377.09 152.40,376.76 152.04,376.39 151.60,376.00 151.05,375.56 150.39,375.07 149.67,374.54 148.93,374.01 148.22,373.48 147.60,373.00 146.98,372.55 146.31,372.13 145.68,371.72 145.16,371.31 144.84,370.91 144.80,370.50 145.14,370.08 145.81,369.65 146.68,369.22 147.61,368.80 148.46,368.39 149.10,368.00 149.52,367.65 149.83,367.33 150.06,367.03 150.24,366.72 150.41,366.39 150.60,366.00 150.79,365.54 150.95,365.01 151.09,364.45 151.24,363.90 151.40,363.41 151.60,363.00 151.85,362.68 152.15,362.42 152.46,362.21 152.76,362.04 153.02,361.91 153.20,361.80" fill="#00BFC4"/>
<line x1="153.60" y1="363.00" x2="153.60" y2="376.00" stroke="#333" stroke-width="0.7" opacity="0.85"/>
<rect x="152.70" y="368.00" width="1.80" height="4.50" fill="#E4E4E4" stroke="#3A3A3A" stroke-width="0.6" />
<line x1="152.70" y1="370.30" x2="154.50" y2="370.30" stroke="#222" stroke-width="0.8" />
<polygon points="185.30,360.90 185.37,361.88 185.47,363.23 185.59,364.82 185.72,366.56 185.86,368.33 186.00,370.00 186.14,371.67 186.27,373.45 186.42,375.26 186.58,377.00 186.77,378.61 187.00,380.00 187.28,381.13 187.61,382.06 187.97,382.84 188.33,383.56 188.68,384.25 189.00,385.00 189.33,385.77 189.70,386.50 190.06,387.22 190.35,387.94 190.52,388.70 190.50,389.50 190.25,390.38 189.80,391.31 189.23,392.28 188.61,393.23 188.01,394.15 187.50,395.00 187.06,395.81 186.63,396.62 186.21,397.39 185.84,398.09 185.53,398.67 185.30,399.10 184.70,399.10 184.47,398.67 184.16,398.09 183.79,397.39 183.37,396.62 182.94,395.81 182.50,395.00 181.99,394.15 181.39,393.23 180.77,392.28 180.20,391.31 179.75,390.38 179.50,389.50 179.48,388.70 179.65,387.94 179.94,387.22 180.30,386.50 180.67,385.77 181.00,385.00 181.32,384.25 181.67,383.56 182.03,382.84 182.39,382.06 182.72,381.13 183.00,380.00 183.23,378.61 183.42,377.00 183.58,375.26 183.73,373.45 183.86,371.67 184.00,370.00 184.14,368.33 184.28,366.56 184.41,364.82 184.53,363.23 184.63,361.88 184.70,360.90" fill="#F8766D"/>
<line x1="185.00" y1="372.00" x2="185.00" y2="396.00" stroke="#333" stroke-width="0.7" opacity="0.85"/>
<rect x="183.70" y="383.00" width="2.60" height="9.00" fill="#E4E4E4" stroke="#3A3A3A" stroke-width="0.6" />
<line x1="183.70" y1="388.00" x2="186.30" y2="388.00" stroke="#222" stroke-width="0.8" />
<circle cx="185.00" cy="366.90" r="1.1" fill="#000"/>
<circle cx="185.00" cy="374.50" r="1.1" fill="#000"/>
<polygon points="202.80,340.90 202.93,341.20 203.11,341.60 203.33,342.07 203.54,342.64 203.71,343.28 203.80,344.00 203.80,344.81 203.72,345.71 203.61,346.69 203.48,347.74 203.37,348.85 203.30,350.00 203.26,351.28 203.22,352.70 203.20,354.19 203.21,355.63 203.27,356.93 203.40,358.00 203.57,358.79 203.77,359.39 204.01,359.84 204.33,360.21 204.75,360.58 205.30,361.00 206.12,361.46 207.24,361.90 208.45,362.34 209.57,362.76 210.42,363.18 210.80,363.60 210.62,364.01 210.01,364.40 209.12,364.79 208.11,365.19 207.12,365.58 206.30,366.00 205.59,366.46 204.87,366.98 204.17,367.50 203.53,367.99 202.99,368.40 202.60,368.70 202.00,368.70 201.61,368.40 201.07,367.99 200.43,367.50 199.73,366.98 199.01,366.46 198.30,366.00 197.48,365.58 196.49,365.19 195.48,364.79 194.59,364.40 193.98,364.01 193.80,363.60 194.18,363.18 195.03,362.76 196.15,362.34 197.36,361.90 198.48,361.46 199.30,361.00 199.85,360.58 200.27,360.21 200.59,359.84 200.83,359.39 201.03,358.79 201.20,358.00 201.33,356.93 201.39,355.63 201.40,354.19 201.38,352.70 201.34,351.28 201.30,350.00 201.23,348.85 201.12,347.74 200.99,346.69 200.88,345.71 200.80,344.81 200.80,344.00 200.89,343.28 201.06,342.64 201.27,342.07 201.49,341.60 201.67,341.20 201.80,340.90" fill="#00BFC4"/>
<line x1="202.30" y1="344.00" x2="202.30" y2="366.00" stroke="#333" stroke-width="0.7" opacity="0.85"/>
<circle cx="202.30" cy="343.80" r="1.4" fill="#000"/>
<circle cx="202.3" cy="363.4" r="1.2" fill="#D8D8D8" stroke="#333" stroke-width="0.6"/>
<polygon points="223.60,380.90 223.72,381.12 223.87,381.41 224.06,381.76 224.26,382.16 224.48,382.57 224.70,383.00 224.90,383.44 225.07,383.91 225.25,384.41 225.48,384.93 225.79,385.46 226.20,386.00 226.83,386.56 227.67,387.15 228.59,387.75 229.45,388.35 230.11,388.94 230.45,389.50 230.40,390.02 230.06,390.52 229.53,391.00 228.89,391.48 228.25,391.98 227.70,392.50 227.19,393.06 226.65,393.65 226.10,394.25 225.58,394.85 225.10,395.44 224.70,396.00 224.38,396.56 224.12,397.15 223.91,397.72 223.74,398.24 223.61,398.68 223.50,399.00 222.90,399.00 222.79,398.68 222.66,398.24 222.49,397.72 222.28,397.15 222.02,396.56 221.70,396.00 221.30,395.44 220.82,394.85 220.30,394.25 219.75,393.65 219.21,393.06 218.70,392.50 218.15,391.98 217.51,391.48 216.87,391.00 216.34,390.52 216.00,390.02 215.95,389.50 216.29,388.94 216.95,388.35 217.81,387.75 218.73,387.15 219.57,386.56 220.20,386.00 220.61,385.46 220.92,384.93 221.15,384.41 221.33,383.91 221.50,383.44 221.70,383.00 221.92,382.57 222.14,382.16 222.34,381.76 222.53,381.41 222.68,381.12 222.80,380.90" fill="#F8766D"/>
<line x1="223.20" y1="382.00" x2="223.20" y2="397.00" stroke="#333" stroke-width="0.7" opacity="0.85"/>
<rect x="222.10" y="386.50" width="2.20" height="5.00" fill="#E4E4E4" stroke="#3A3A3A" stroke-width="0.6" />
<line x1="222.10" y1="389.00" x2="224.30" y2="389.00" stroke="#222" stroke-width="0.8" />
<polygon points="240.60,340.00 240.65,341.11 240.73,342.67 240.82,344.50 240.91,346.44 241.01,348.33 241.10,350.00 241.13,351.47 241.11,352.87 241.08,354.22 241.11,355.52 241.26,356.78 241.60,358.00 242.26,359.18 243.24,360.31 244.33,361.41 245.35,362.46 246.12,363.49 246.45,364.50 246.21,365.48 245.54,366.43 244.61,367.34 243.61,368.24 242.71,369.12 242.10,370.00 241.80,370.84 241.67,371.64 241.65,372.42 241.68,373.22 241.68,374.07 241.60,375.00 241.43,376.11 241.21,377.39 240.97,378.71 240.74,379.97 240.54,381.04 240.40,381.80 239.80,381.80 239.66,381.04 239.46,379.97 239.23,378.71 238.99,377.39 238.77,376.11 238.60,375.00 238.52,374.07 238.52,373.22 238.55,372.42 238.53,371.64 238.40,370.84 238.10,370.00 237.49,369.12 236.59,368.24 235.59,367.34 234.66,366.43 233.99,365.48 233.75,364.50 234.08,363.49 234.85,362.46 235.87,361.41 236.96,360.31 237.94,359.18 238.60,358.00 238.94,356.78 239.09,355.52 239.12,354.22 239.09,352.87 239.07,351.47 239.10,350.00 239.19,348.33 239.29,346.44 239.38,344.50 239.47,342.67 239.55,341.11 239.60,340.00" fill="#00BFC4"/>
<line x1="240.10" y1="344.00" x2="240.10" y2="380.00" stroke="#333" stroke-width="0.7" opacity="0.85"/>
<rect x="238.90" y="361.00" width="2.40" height="6.00" fill="#E4E4E4" stroke="#3A3A3A" stroke-width="0.6" />
<line x1="238.90" y1="364.00" x2="241.30" y2="364.00" stroke="#222" stroke-width="0.8" />
<circle cx="240.10" cy="343.80" r="1.3" fill="#000"/>
<circle cx="240.10" cy="374.50" r="1.3" fill="#000"/>
<circle cx="240.10" cy="377.60" r="1.3" fill="#000"/>
<polygon points="262.50,384.00 262.67,384.25 262.88,384.58 263.14,384.98 263.48,385.42 263.92,385.90 264.50,386.40 265.39,386.92 266.62,387.48 267.95,388.07 269.16,388.69 270.02,389.33 270.30,390.00 269.84,390.73 268.78,391.53 267.37,392.36 265.86,393.16 264.48,393.89 263.50,394.50 262.90,394.99 262.49,395.40 262.23,395.73 262.05,396.00 261.93,396.22 261.80,396.40 261.20,396.40 261.07,396.22 260.95,396.00 260.77,395.73 260.51,395.40 260.10,394.99 259.50,394.50 258.52,393.89 257.14,393.16 255.63,392.36 254.22,391.53 253.16,390.73 252.70,390.00 252.98,389.33 253.84,388.69 255.05,388.07 256.38,387.48 257.61,386.92 258.50,386.40 259.08,385.90 259.52,385.42 259.86,384.98 260.12,384.58 260.33,384.25 260.50,384.00" fill="#F8766D"/>
<line x1="261.50" y1="384.00" x2="261.50" y2="396.00" stroke="#333" stroke-width="0.7" opacity="0.85"/>
<circle cx="261.50" cy="384.00" r="1.2" fill="#000"/>
<circle cx="261.5" cy="389.2" r="1.2" fill="#D8D8D8" stroke="#333" stroke-width="0.6"/>
<polygon points="278.80,325.50 278.88,327.07 278.99,329.24 279.12,331.81 279.26,334.59 279.39,337.39 279.50,340.00 279.58,342.52 279.64,345.13 279.70,347.75 279.77,350.31 279.86,352.75 280.00,355.00 280.22,356.96 280.52,358.69 280.84,360.28 281.15,361.87 281.38,363.57 281.50,365.50 281.49,367.62 281.38,369.83 281.20,372.16 280.98,374.61 280.74,377.22 280.50,380.00 280.24,383.25 279.92,387.00 279.59,390.91 279.27,394.61 278.99,397.76 278.80,400.00 278.20,400.00 278.01,397.76 277.73,394.61 277.41,390.91 277.08,387.00 276.76,383.25 276.50,380.00 276.26,377.22 276.02,374.61 275.80,372.16 275.62,369.83 275.51,367.62 275.50,365.50 275.62,363.57 275.85,361.87 276.16,360.28 276.48,358.69 276.78,356.96 277.00,355.00 277.14,352.75 277.23,350.31 277.30,347.75 277.36,345.13 277.42,342.52 277.50,340.00 277.61,337.39 277.74,334.59 277.88,331.81 278.01,329.24 278.12,327.07 278.20,325.50" fill="#00BFC4"/>
<line x1="278.50" y1="345.00" x2="278.50" y2="398.00" stroke="#333" stroke-width="0.7" opacity="0.85"/>
<rect x="277.20" y="363.40" width="2.60" height="23.10" fill="#E4E4E4" stroke="#3A3A3A" stroke-width="0.6" />
<line x1="277.20" y1="365.50" x2="279.80" y2="365.50" stroke="#222" stroke-width="0.8" />
<polygon points="309.90,362.70 310.03,363.46 310.22,364.49 310.44,365.72 310.67,367.10 310.90,368.54 311.10,370.00 311.30,371.51 311.52,373.13 311.74,374.83 311.92,376.57 312.05,378.30 312.10,380.00 312.05,381.70 311.92,383.43 311.74,385.17 311.52,386.87 311.30,388.49 311.10,390.00 310.90,391.46 310.67,392.90 310.44,394.27 310.22,395.51 310.03,396.54 309.90,397.30 309.30,397.30 309.17,396.54 308.98,395.51 308.76,394.27 308.53,392.90 308.30,391.46 308.10,390.00 307.90,388.49 307.68,386.87 307.46,385.17 307.28,383.43 307.15,381.70 307.10,380.00 307.15,378.30 307.28,376.57 307.46,374.83 307.68,373.13 307.90,371.51 308.10,370.00 308.30,368.54 308.53,367.10 308.76,365.72 308.98,364.49 309.17,363.46 309.30,362.70" fill="#F8766D"/>
<line x1="309.60" y1="366.00" x2="309.60" y2="394.00" stroke="#333" stroke-width="0.7" opacity="0.85"/>
<rect x="308.10" y="373.60" width="3.00" height="11.90" fill="#E4E4E4" stroke="#3A3A3A" stroke-width="0.6" />
<line x1="308.10" y1="378.00" x2="311.10" y2="378.00" stroke="#222" stroke-width="0.8" />
<polygon points="327.30,300.40 327.32,300.28 327.35,299.80 327.39,299.39 327.42,299.49 327.45,300.55 327.47,303.00 327.49,307.43 327.49,313.60 327.49,320.73 327.49,328.02 327.49,334.71 327.50,340.00 327.51,343.88 327.50,346.96 327.50,349.44 327.51,351.48 327.56,353.28 327.65,355.00 327.79,356.56 327.96,357.79 328.16,358.78 328.39,359.59 328.64,360.30 328.90,361.00 329.24,361.63 329.66,362.13 330.10,362.52 330.50,362.87 330.79,363.22 330.90,363.60 330.79,364.00 330.52,364.39 330.13,364.77 329.69,365.16 329.26,365.56 328.90,366.00 328.58,366.51 328.25,367.10 327.92,367.70 327.63,368.27 327.38,368.75 327.20,369.10 326.60,369.10 326.42,368.75 326.17,368.27 325.88,367.70 325.55,367.10 325.22,366.51 324.90,366.00 324.54,365.56 324.11,365.16 323.67,364.77 323.28,364.39 323.01,364.00 322.90,363.60 323.01,363.22 323.30,362.87 323.70,362.52 324.14,362.13 324.56,361.63 324.90,361.00 325.16,360.30 325.41,359.59 325.64,358.78 325.84,357.79 326.01,356.56 326.15,355.00 326.24,353.28 326.29,351.48 326.30,349.44 326.30,346.96 326.29,343.88 326.30,340.00 326.31,334.71 326.31,328.02 326.31,320.73 326.31,313.60 326.31,307.43 326.32,303.00 326.35,300.55 326.38,299.49 326.41,299.39 326.45,299.80 326.48,300.28 326.50,300.40" fill="#00BFC4"/>
<line x1="326.90" y1="358.00" x2="326.90" y2="367.00" stroke="#333" stroke-width="0.7" opacity="0.85"/>
<circle cx="326.90" cy="302.20" r="1.0" fill="#000"/>
<circle cx="326.90" cy="349.10" r="1.0" fill="#000"/>
<circle cx="326.90" cy="354.50" r="1.0" fill="#000"/>
<circle cx="326.9" cy="363.6" r="1.2" fill="#D8D8D8" stroke="#333" stroke-width="0.6"/>
<polygon points="349.10,383.80 349.81,383.98 350.89,384.23 352.11,384.52 353.26,384.84 354.10,385.17 354.40,385.50 354.02,385.84 353.10,386.23 351.88,386.62 350.57,387.00 349.40,387.33 348.60,387.60 348.18,387.79 347.96,387.93 347.89,388.03 347.89,388.10 347.92,388.15 347.90,388.20 347.30,388.20 347.28,388.15 347.31,388.10 347.31,388.03 347.24,387.93 347.02,387.79 346.60,387.60 345.80,387.33 344.63,387.00 343.33,386.62 342.10,386.23 341.18,385.84 340.80,385.50 341.10,385.17 341.94,384.84 343.09,384.52 344.31,384.23 345.39,383.98 346.10,383.80" fill="#F8766D"/>
<circle cx="347.60" cy="382.60" r="0.95" fill="#000"/>
<circle cx="347.60" cy="385.40" r="0.95" fill="#000"/>
<polygon points="365.30,299.10 365.32,299.14 365.35,298.89 365.39,298.74 365.42,299.10 365.45,300.39 365.47,303.00 365.49,307.51 365.49,313.70 365.49,320.81 365.49,328.07 365.49,334.72 365.50,340.00 365.51,343.89 365.52,347.00 365.53,349.50 365.55,351.56 365.59,353.33 365.65,355.00 365.74,356.43 365.85,357.46 365.98,358.21 366.12,358.81 366.27,359.36 366.40,360.00 366.55,360.68 366.72,361.31 366.90,361.90 367.05,362.47 367.16,363.03 367.20,363.60 367.16,364.16 367.04,364.69 366.88,365.21 366.70,365.76 366.53,366.34 366.40,367.00 366.30,367.69 366.21,368.40 366.14,369.15 366.06,369.98 365.99,370.92 365.90,372.00 365.80,373.37 365.69,375.04 365.57,376.81 365.46,378.52 365.37,379.97 365.30,381.00 364.50,381.00 364.43,379.97 364.34,378.52 364.23,376.81 364.11,375.04 364.00,373.37 363.90,372.00 363.81,370.92 363.74,369.98 363.66,369.15 363.59,368.40 363.50,367.69 363.40,367.00 363.27,366.34 363.10,365.76 362.92,365.21 362.76,364.69 362.64,364.16 362.60,363.60 362.64,363.03 362.75,362.47 362.90,361.90 363.08,361.31 363.25,360.68 363.40,360.00 363.53,359.36 363.68,358.81 363.82,358.21 363.95,357.46 364.06,356.43 364.15,355.00 364.21,353.33 364.25,351.56 364.27,349.50 364.28,347.00 364.29,343.89 364.30,340.00 364.31,334.72 364.31,328.07 364.31,320.81 364.31,313.70 364.31,307.51 364.32,303.00 364.35,300.39 364.38,299.10 364.41,298.74 364.45,298.89 364.48,299.14 364.50,299.10" fill="#00BFC4"/>
<line x1="364.90" y1="361.00" x2="364.90" y2="366.00" stroke="#333" stroke-width="0.7" opacity="0.85"/>
<circle cx="364.90" cy="302.20" r="0.95" fill="#000"/>
<circle cx="364.90" cy="349.00" r="0.95" fill="#000"/>
<circle cx="364.90" cy="353.60" r="0.95" fill="#000"/>
<circle cx="364.90" cy="358.20" r="0.95" fill="#000"/>
<circle cx="364.90" cy="372.00" r="0.95" fill="#000"/>
<circle cx="364.90" cy="374.50" r="0.95" fill="#000"/>
<circle cx="364.90" cy="377.00" r="0.95" fill="#000"/>
<circle cx="364.90" cy="379.00" r="0.95" fill="#000"/>
<circle cx="364.9" cy="363.6" r="1.3" fill="#D8D8D8" stroke="#333" stroke-width="0.6"/>
<polygon points="403.50,299.10 403.52,299.14 403.55,298.89 403.59,298.74 403.62,299.10 403.65,300.39 403.68,303.00 403.69,307.51 403.69,313.70 403.69,320.81 403.69,328.07 403.69,334.72 403.70,340.00 403.71,343.89 403.72,347.00 403.73,349.50 403.75,351.56 403.79,353.33 403.85,355.00 403.94,356.43 404.05,357.46 404.18,358.21 404.32,358.81 404.47,359.36 404.60,360.00 404.75,360.68 404.92,361.31 405.10,361.90 405.25,362.47 405.36,363.03 405.40,363.60 405.36,364.16 405.24,364.69 405.08,365.21 404.90,365.76 404.73,366.34 404.60,367.00 404.50,367.63 404.41,368.18 404.34,368.78 404.26,369.54 404.19,370.58 404.10,372.00 404.00,374.08 403.89,376.79 403.77,379.76 403.66,382.67 403.57,385.16 403.50,386.90 402.70,386.90 402.63,385.16 402.54,382.67 402.43,379.76 402.31,376.79 402.20,374.08 402.10,372.00 402.01,370.58 401.94,369.54 401.86,368.78 401.79,368.18 401.70,367.63 401.60,367.00 401.47,366.34 401.30,365.76 401.12,365.21 400.96,364.69 400.84,364.16 400.80,363.60 400.84,363.03 400.95,362.47 401.10,361.90 401.28,361.31 401.45,360.68 401.60,360.00 401.73,359.36 401.88,358.81 402.02,358.21 402.15,357.46 402.26,356.43 402.35,355.00 402.41,353.33 402.45,351.56 402.47,349.50 402.48,347.00 402.49,343.89 402.50,340.00 402.51,334.72 402.51,328.07 402.51,320.81 402.51,313.70 402.51,307.51 402.53,303.00 402.55,300.39 402.58,299.10 402.61,298.74 402.65,298.89 402.68,299.14 402.70,299.10" fill="#00BFC4"/>
<line x1="403.10" y1="361.00" x2="403.10" y2="366.00" stroke="#333" stroke-width="0.7" opacity="0.85"/>
<circle cx="403.10" cy="302.20" r="0.95" fill="#000"/>
<circle cx="403.10" cy="349.00" r="0.95" fill="#000"/>
<circle cx="403.10" cy="353.60" r="0.95" fill="#000"/>
<circle cx="403.10" cy="358.20" r="0.95" fill="#000"/>
<circle cx="403.10" cy="372.00" r="0.95" fill="#000"/>
<circle cx="403.10" cy="374.50" r="0.95" fill="#000"/>
<circle cx="403.10" cy="377.00" r="0.95" fill="#000"/>
<circle cx="403.10" cy="379.00" r="0.95" fill="#000"/>
<circle cx="403.1" cy="363.6" r="1.3" fill="#D8D8D8" stroke="#333" stroke-width="0.6"/>
<polygon points="387.30,385.00 388.23,385.15 389.65,385.35 391.27,385.59 392.78,385.87 393.89,386.17 394.30,386.50 393.81,386.88 392.62,387.33 391.03,387.81 389.33,388.28 387.82,388.69 386.80,389.00 386.28,389.20 386.04,389.33 385.98,389.41 386.03,389.44 386.10,389.47 386.10,389.50 385.50,389.50 385.50,389.47 385.57,389.44 385.62,389.41 385.56,389.33 385.32,389.20 384.80,389.00 383.78,388.69 382.27,388.28 380.57,387.81 378.98,387.33 377.79,386.88 377.30,386.50 377.71,386.17 378.82,385.87 380.33,385.59 381.95,385.35 383.37,385.15 384.30,385.00" fill="#F8766D"/>
<circle cx="385.80" cy="386.80" r="1.0" fill="#000"/>
<polygon points="434.50,351.60 434.61,353.10 434.75,355.20 434.93,357.68 435.11,360.29 435.29,362.81 435.45,365.00 435.58,366.84 435.69,368.51 435.79,370.09 435.90,371.64 436.03,373.26 436.20,375.00 436.44,376.95 436.74,379.07 437.06,381.25 437.36,383.37 437.59,385.32 437.70,387.00 437.69,388.34 437.60,389.43 437.43,390.34 437.21,391.19 436.97,392.04 436.70,393.00 436.38,394.13 435.97,395.37 435.54,396.62 435.11,397.80 434.75,398.79 434.50,399.50 433.90,399.50 433.65,398.79 433.29,397.80 432.86,396.62 432.43,395.37 432.02,394.13 431.70,393.00 431.43,392.04 431.19,391.19 430.97,390.34 430.80,389.43 430.71,388.34 430.70,387.00 430.81,385.32 431.04,383.37 431.34,381.25 431.66,379.07 431.96,376.95 432.20,375.00 432.37,373.26 432.50,371.64 432.61,370.09 432.71,368.51 432.82,366.84 432.95,365.00 433.11,362.81 433.29,360.29 433.47,357.68 433.65,355.20 433.79,353.10 433.90,351.60" fill="#F8766D"/>
<line x1="434.20" y1="362.00" x2="434.20" y2="396.00" stroke="#333" stroke-width="0.7" opacity="0.85"/>
<rect x="432.80" y="373.60" width="2.80" height="15.40" fill="#E4E4E4" stroke="#3A3A3A" stroke-width="0.6" />
<line x1="432.80" y1="386.70" x2="435.60" y2="386.70" stroke="#222" stroke-width="0.8" />
<polygon points="451.40,341.10 451.58,341.30 451.83,341.57 452.13,341.89 452.44,342.25 452.74,342.63 453.00,343.00 453.25,343.38 453.52,343.79 453.78,344.21 453.99,344.64 454.13,345.08 454.15,345.50 454.03,345.92 453.77,346.35 453.44,346.78 453.08,347.20 452.75,347.61 452.50,348.00 452.32,348.29 452.17,348.48 452.05,348.66 451.95,348.91 451.87,349.33 451.80,350.00 451.73,351.06 451.67,352.44 451.62,354.00 451.61,355.56 451.66,356.94 451.80,358.00 452.02,358.68 452.32,359.11 452.68,359.38 453.09,359.56 453.53,359.74 454.00,360.00 454.53,360.34 455.13,360.67 455.76,361.01 456.40,361.35 456.99,361.68 457.50,362.00 457.97,362.31 458.43,362.62 458.84,362.92 459.19,363.21 459.42,363.51 459.50,363.80 459.42,364.09 459.19,364.36 458.84,364.64 458.43,364.91 457.97,365.20 457.50,365.50 456.99,365.81 456.41,366.14 455.79,366.48 455.16,366.81 454.55,367.16 454.00,367.50 453.47,367.87 452.94,368.27 452.43,368.68 451.97,369.05 451.58,369.37 451.30,369.60 450.70,369.60 450.42,369.37 450.03,369.05 449.57,368.68 449.06,368.27 448.53,367.87 448.00,367.50 447.45,367.16 446.84,366.81 446.21,366.48 445.59,366.14 445.01,365.81 444.50,365.50 444.03,365.20 443.57,364.91 443.16,364.64 442.81,364.36 442.58,364.09 442.50,363.80 442.58,363.51 442.81,363.21 443.16,362.92 443.57,362.62 444.03,362.31 444.50,362.00 445.01,361.68 445.60,361.35 446.24,361.01 446.87,360.67 447.47,360.34 448.00,360.00 448.47,359.74 448.91,359.56 449.32,359.38 449.68,359.11 449.98,358.68 450.20,358.00 450.34,356.94 450.39,355.56 450.38,354.00 450.33,352.44 450.27,351.06 450.20,350.00 450.13,349.33 450.05,348.91 449.95,348.66 449.83,348.48 449.68,348.29 449.50,348.00 449.25,347.61 448.92,347.20 448.56,346.78 448.23,346.35 447.97,345.92 447.85,345.50 447.87,345.08 448.01,344.64 448.22,344.21 448.48,343.79 448.75,343.38 449.00,343.00 449.26,342.63 449.56,342.25 449.87,341.89 450.17,341.57 450.42,341.30 450.60,341.10" fill="#00BFC4"/>
<line x1="451.00" y1="360.00" x2="451.00" y2="368.00" stroke="#333" stroke-width="0.7" opacity="0.85"/>
<circle cx="451.00" cy="344.50" r="1.2" fill="#000"/>
<circle cx="451.00" cy="345.50" r="1.2" fill="#000"/>
<circle cx="451.00" cy="346.50" r="1.2" fill="#000"/>
<circle cx="451.0" cy="362.8" r="1.2" fill="#D8D8D8" stroke="#333" stroke-width="0.6"/>
<polygon points="472.40,376.50 472.52,376.88 472.66,377.39 472.84,378.00 473.06,378.67 473.31,379.35 473.60,380.00 473.95,380.64 474.36,381.30 474.82,381.97 475.27,382.65 475.71,383.33 476.10,384.00 476.47,384.67 476.84,385.33 477.19,386.00 477.50,386.67 477.73,387.33 477.85,388.00 477.86,388.67 477.79,389.33 477.63,390.00 477.41,390.67 477.15,391.33 476.85,392.00 476.48,392.67 476.02,393.35 475.52,394.03 475.00,394.70 474.52,395.36 474.10,396.00 473.74,396.65 473.39,397.33 473.08,398.00 472.80,398.61 472.57,399.12 472.40,399.50 471.80,399.50 471.63,399.12 471.40,398.61 471.12,398.00 470.81,397.33 470.46,396.65 470.10,396.00 469.68,395.36 469.20,394.70 468.68,394.03 468.18,393.35 467.72,392.67 467.35,392.00 467.05,391.33 466.79,390.67 466.57,390.00 466.41,389.33 466.34,388.67 466.35,388.00 466.47,387.33 466.70,386.67 467.01,386.00 467.36,385.33 467.73,384.67 468.10,384.00 468.49,383.33 468.93,382.65 469.38,381.97 469.84,381.30 470.25,380.64 470.60,380.00 470.89,379.35 471.14,378.67 471.36,378.00 471.54,377.39 471.68,376.88 471.80,376.50" fill="#F8766D"/>
<line x1="472.10" y1="380.00" x2="472.10" y2="397.00" stroke="#333" stroke-width="0.7" opacity="0.85"/>
<rect x="471.00" y="385.50" width="2.20" height="5.50" fill="#E4E4E4" stroke="#3A3A3A" stroke-width="0.6" />
<line x1="471.00" y1="388.00" x2="473.20" y2="388.00" stroke="#222" stroke-width="0.8" />
<polygon points="489.60,338.20 489.70,338.62 489.86,339.21 490.03,339.91 490.21,340.65 490.37,341.37 490.50,342.00 490.59,342.55 490.67,343.06 490.73,343.55 490.77,344.03 490.80,344.51 490.80,345.00 490.77,345.49 490.71,345.96 490.64,346.44 490.55,346.93 490.47,347.44 490.40,348.00 490.34,348.60 490.27,349.22 490.20,349.88 490.15,350.56 490.11,351.26 490.10,352.00 490.11,352.80 490.14,353.67 490.18,354.56 490.24,355.44 490.33,356.27 490.45,357.00 490.59,357.60 490.74,358.09 490.93,358.53 491.14,358.96 491.39,359.44 491.70,360.00 492.12,360.67 492.67,361.43 493.26,362.22 493.81,363.02 494.23,363.79 494.45,364.50 494.42,365.14 494.20,365.72 493.86,366.28 493.45,366.83 493.04,367.40 492.70,368.00 492.40,368.64 492.08,369.30 491.76,369.97 491.45,370.65 491.18,371.33 490.95,372.00 490.78,372.65 490.66,373.29 490.57,373.92 490.49,374.57 490.40,375.26 490.30,376.00 490.17,376.87 490.01,377.87 489.86,378.90 489.71,379.88 489.59,380.71 489.50,381.30 488.90,381.30 488.81,380.71 488.69,379.88 488.54,378.90 488.39,377.87 488.23,376.87 488.10,376.00 488.00,375.26 487.91,374.57 487.83,373.92 487.74,373.29 487.62,372.65 487.45,372.00 487.22,371.33 486.95,370.65 486.64,369.97 486.32,369.30 486.00,368.64 485.70,368.00 485.36,367.40 484.95,366.83 484.54,366.28 484.20,365.72 483.98,365.14 483.95,364.50 484.17,363.79 484.59,363.02 485.14,362.22 485.73,361.43 486.28,360.67 486.70,360.00 487.01,359.44 487.26,358.96 487.47,358.53 487.66,358.09 487.81,357.60 487.95,357.00 488.07,356.27 488.16,355.44 488.22,354.56 488.26,353.67 488.29,352.80 488.30,352.00 488.29,351.26 488.25,350.56 488.20,349.88 488.13,349.22 488.06,348.60 488.00,348.00 487.93,347.44 487.85,346.93 487.76,346.44 487.69,345.96 487.63,345.49 487.60,345.00 487.60,344.51 487.63,344.03 487.67,343.55 487.73,343.06 487.81,342.55 487.90,342.00 488.03,341.37 488.19,340.65 488.37,339.91 488.54,339.21 488.70,338.62 488.80,338.20" fill="#00BFC4"/>
<line x1="489.20" y1="356.00" x2="489.20" y2="376.00" stroke="#333" stroke-width="0.7" opacity="0.85"/>
<rect x="488.10" y="362.00" width="2.20" height="6.30" fill="#E4E4E4" stroke="#3A3A3A" stroke-width="0.6" />
<line x1="488.10" y1="365.00" x2="490.30" y2="365.00" stroke="#222" stroke-width="0.8" />
<circle cx="489.20" cy="343.50" r="1.2" fill="#000"/>
<circle cx="489.20" cy="344.50" r="1.2" fill="#000"/>
<circle cx="489.20" cy="345.50" r="1.2" fill="#000"/>
<circle cx="489.20" cy="346.50" r="1.2" fill="#000"/>
<circle cx="489.20" cy="347.50" r="1.2" fill="#000"/>
<polygon points="510.50,376.50 510.62,376.88 510.76,377.39 510.94,378.00 511.16,378.67 511.41,379.35 511.70,380.00 512.05,380.64 512.47,381.30 512.93,381.97 513.39,382.65 513.83,383.33 514.20,384.00 514.54,384.67 514.87,385.33 515.17,386.00 515.42,386.67 515.61,387.33 515.70,388.00 515.70,388.67 515.61,389.33 515.45,390.00 515.24,390.67 514.98,391.33 514.70,392.00 514.36,392.67 513.95,393.35 513.49,394.03 513.03,394.70 512.59,395.36 512.20,396.00 511.85,396.65 511.51,397.33 511.19,398.00 510.91,398.61 510.68,399.12 510.50,399.50 509.90,399.50 509.72,399.12 509.49,398.61 509.21,398.00 508.89,397.33 508.55,396.65 508.20,396.00 507.81,395.36 507.37,394.70 506.91,394.03 506.45,393.35 506.04,392.67 505.70,392.00 505.42,391.33 505.16,390.67 504.95,390.00 504.79,389.33 504.70,388.67 504.70,388.00 504.79,387.33 504.98,386.67 505.23,386.00 505.53,385.33 505.86,384.67 506.20,384.00 506.57,383.33 507.01,382.65 507.47,381.97 507.93,381.30 508.35,380.64 508.70,380.00 508.99,379.35 509.24,378.67 509.46,378.00 509.64,377.39 509.78,376.88 509.90,376.50" fill="#F8766D"/>
<line x1="510.20" y1="380.00" x2="510.20" y2="397.00" stroke="#333" stroke-width="0.7" opacity="0.85"/>
<rect x="509.10" y="385.50" width="2.20" height="5.50" fill="#E4E4E4" stroke="#3A3A3A" stroke-width="0.6" />
<line x1="509.10" y1="388.00" x2="511.30" y2="388.00" stroke="#222" stroke-width="0.8" />
<polygon points="527.80,328.60 527.88,329.83 527.99,331.53 528.12,333.55 528.26,335.73 528.39,337.93 528.50,340.00 528.58,341.97 528.64,343.96 528.70,345.96 528.77,347.98 528.86,349.99 529.00,352.00 529.22,353.95 529.52,355.85 529.84,357.75 530.15,359.70 530.38,361.77 530.50,364.00 530.49,366.39 530.38,368.91 530.20,371.53 529.98,374.26 529.74,377.08 529.50,380.00 529.24,383.27 528.92,386.96 528.59,390.75 528.27,394.31 527.99,397.34 527.80,399.50 527.20,399.50 527.01,397.34 526.73,394.31 526.41,390.75 526.08,386.96 525.76,383.27 525.50,380.00 525.26,377.08 525.02,374.26 524.80,371.53 524.62,368.91 524.51,366.39 524.50,364.00 524.62,361.77 524.85,359.70 525.16,357.75 525.48,355.85 525.78,353.95 526.00,352.00 526.14,349.99 526.23,347.98 526.30,345.96 526.36,343.96 526.42,341.97 526.50,340.00 526.61,337.93 526.74,335.73 526.88,333.55 527.01,331.53 527.12,329.83 527.20,328.60" fill="#00BFC4"/>
<line x1="527.50" y1="345.00" x2="527.50" y2="398.00" stroke="#333" stroke-width="0.7" opacity="0.85"/>
<rect x="526.10" y="364.00" width="2.80" height="15.40" fill="#E4E4E4" stroke="#3A3A3A" stroke-width="0.6" />
<line x1="526.10" y1="365.00" x2="528.90" y2="365.00" stroke="#222" stroke-width="0.8" />
<text x="0" y="0" font-size="9.5" text-anchor="start" font-weight="bold" font-style="normal" fill="#000" transform="translate(226.20,433.20) scale(1,1.0)" >Sputum culture result</text>
<rect x="226.00" y="439.10" width="13.00" height="12.60" fill="#F8766D" stroke="none" stroke-width="0" />
<rect x="226.00" y="452.30" width="13.00" height="13.00" fill="#00BFC4" stroke="none" stroke-width="0" />
<text x="0" y="0" font-size="7.1" text-anchor="start" font-weight="normal" font-style="normal" fill="#111" transform="translate(244.00,448.44) scale(1,1.07)" >Positive</text>
<text x="0" y="0" font-size="7.1" text-anchor="start" font-weight="normal" font-style="normal" fill="#111" transform="translate(244.00,461.64) scale(1,1.07)" >Negative</text>
</svg>
</body></html>
